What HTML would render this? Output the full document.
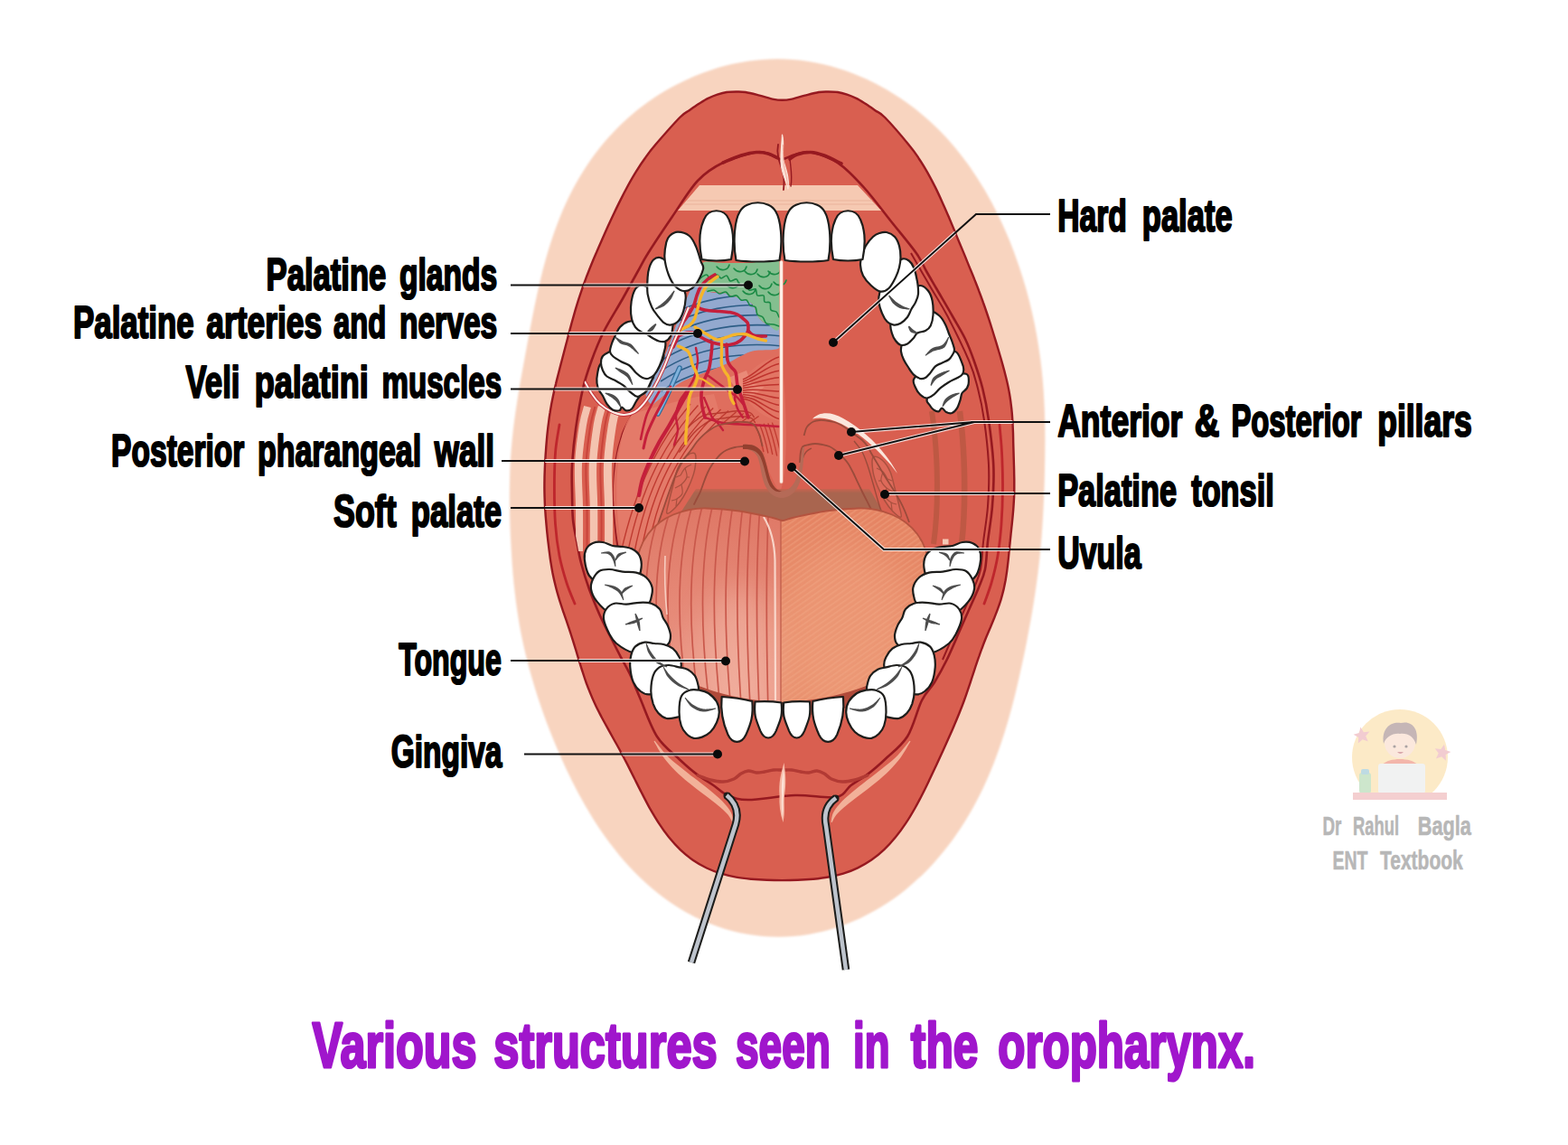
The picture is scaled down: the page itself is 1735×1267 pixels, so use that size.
<!DOCTYPE html>
<html><head><meta charset="utf-8"><title>Various structures seen in the oropharynx</title>
<style>html,body{margin:0;padding:0;background:#fff}svg{display:block}</style></head>
<body>
<svg width="1735" height="1267" viewBox="0 0 1735 1267" font-family="'Liberation Sans',sans-serif" font-weight="bold">
<defs>
<filter id="soft" x="-5%" y="-5%" width="110%" height="110%"><feGaussianBlur stdDeviation="0.9"/></filter>
<filter id="soft2" x="-5%" y="-200%" width="110%" height="500%"><feGaussianBlur stdDeviation="3"/></filter>
<filter id="soft3" x="-50%" y="-50%" width="200%" height="200%"><feGaussianBlur stdDeviation="18"/></filter>
<pattern id="hatch" width="5" height="5" patternUnits="userSpaceOnUse" patternTransform="rotate(-35)"><rect width="5" height="1.6" fill="#f4ad8c" opacity="0.35"/></pattern>
<linearGradient id="gbrown" x1="0" y1="0" x2="0" y2="1"><stop offset="0" stop-color="#c8634f"/><stop offset="0.12" stop-color="#a9654f"/><stop offset="1" stop-color="#a9654f"/></linearGradient>
<linearGradient id="gtl" x1="0" y1="0" x2="0" y2="1"><stop offset="0" stop-color="#df7866"/><stop offset="0.5" stop-color="#e68a78"/><stop offset="1" stop-color="#eea190"/></linearGradient>
<linearGradient id="gtr" x1="0" y1="0" x2="0" y2="1"><stop offset="0" stop-color="#e58463"/><stop offset="1" stop-color="#ea9370"/></linearGradient>
</defs>
<path d="M563.8,550.0C563.8,543.1 563.9,536.2 564.1,529.2C564.2,522.3 564.5,515.4 564.9,508.4C565.4,501.4 565.9,494.4 566.6,487.4C567.3,480.4 568.1,473.4 569.0,466.3C569.9,459.2 571.0,452.1 572.1,444.9C573.2,437.6 574.5,430.4 575.7,423.0C577.0,415.6 578.4,408.1 579.8,400.5C581.2,392.8 582.6,385.0 584.1,377.0C585.6,368.9 587.2,360.7 588.8,352.3C590.5,343.8 592.2,335.1 594.2,326.1C596.2,317.2 598.3,308.0 600.7,298.6C603.2,289.3 605.8,279.7 608.9,270.0C612.0,260.4 615.4,250.5 619.4,240.7C623.4,231.0 627.7,221.1 632.7,211.6C637.7,202.0 643.2,192.4 649.3,183.3C655.3,174.1 662.0,165.1 669.2,156.7C676.4,148.3 684.2,140.2 692.4,132.7C700.6,125.2 709.4,118.1 718.6,111.7C727.7,105.3 737.4,99.4 747.4,94.2C757.3,89.0 767.7,84.4 778.2,80.5C788.8,76.6 799.7,73.3 810.6,70.8C821.6,68.4 832.9,66.7 844.1,65.9C855.3,65.1 866.7,65.1 877.9,66.0C889.1,66.9 900.4,68.7 911.3,71.2C922.3,73.8 933.2,77.2 943.7,81.2C954.2,85.2 964.5,90.0 974.4,95.4C984.2,100.7 993.8,106.7 1002.9,113.2C1012.0,119.7 1020.7,126.8 1029.0,134.3C1037.2,141.8 1044.9,149.8 1052.2,158.0C1059.4,166.3 1066.2,175.0 1072.5,183.7C1078.7,192.5 1084.5,201.6 1089.9,210.7C1095.2,219.8 1100.1,229.0 1104.6,238.2C1109.1,247.4 1113.1,256.7 1116.9,265.8C1120.6,275.0 1124.0,284.1 1127.0,293.1C1130.1,302.1 1132.9,311.0 1135.4,319.8C1137.9,328.6 1140.0,337.3 1142.0,345.8C1144.0,354.4 1145.7,362.8 1147.2,371.2C1148.7,379.5 1149.9,387.7 1151.0,395.8C1152.1,403.9 1153.0,411.8 1153.7,419.7C1154.4,427.5 1154.9,435.3 1155.3,442.9C1155.7,450.5 1156.0,458.0 1156.2,465.4C1156.3,472.8 1156.4,480.0 1156.4,487.2C1156.4,494.4 1156.3,501.5 1156.2,508.5C1156.1,515.5 1156.0,522.5 1155.8,529.4C1155.6,536.3 1155.4,543.1 1155.1,550.0C1154.8,556.9 1154.5,563.7 1154.1,570.5C1153.7,577.3 1153.3,584.2 1152.8,591.0C1152.3,597.9 1151.7,604.7 1151.0,611.6C1150.3,618.6 1149.6,625.5 1148.7,632.5C1147.8,639.5 1146.9,646.5 1145.8,653.7C1144.8,660.8 1143.6,668.0 1142.4,675.3C1141.2,682.6 1139.9,690.0 1138.4,697.5C1137.0,705.1 1135.6,712.7 1134.0,720.6C1132.4,728.4 1130.7,736.4 1128.8,744.6C1127.0,752.8 1125.1,761.2 1122.9,769.8C1120.8,778.4 1118.5,787.2 1115.9,796.1C1113.3,805.1 1110.5,814.3 1107.3,823.5C1104.1,832.8 1100.7,842.3 1096.7,851.7C1092.8,861.2 1088.6,870.8 1083.8,880.3C1079.0,889.7 1073.8,899.3 1068.0,908.5C1062.2,917.8 1056.0,927.0 1049.2,935.8C1042.4,944.6 1035.0,953.3 1027.2,961.4C1019.4,969.4 1011.0,977.2 1002.1,984.4C993.3,991.5 983.9,998.2 974.2,1004.0C964.5,1009.9 954.3,1015.2 943.8,1019.6C933.4,1024.0 922.5,1027.7 911.5,1030.5C900.5,1033.2 889.2,1035.1 878.0,1036.1C866.7,1037.0 855.3,1037.0 844.0,1036.0C832.8,1035.1 821.5,1033.1 810.5,1030.3C799.6,1027.5 788.7,1023.6 778.3,1019.1C767.9,1014.5 757.7,1008.9 748.1,1002.8C738.5,996.7 729.2,989.7 720.5,982.3C711.8,975.0 703.6,966.9 695.9,958.6C688.2,950.3 681.1,941.4 674.4,932.6C667.7,923.7 661.6,914.5 655.8,905.3C650.1,896.2 644.9,886.9 639.9,877.8C635.0,868.6 630.5,859.4 626.3,850.4C622.0,841.4 618.2,832.5 614.5,823.8C610.9,815.0 607.5,806.4 604.3,797.9C601.2,789.4 598.2,781.0 595.5,772.8C592.8,764.5 590.3,756.4 588.0,748.3C585.7,740.3 583.6,732.4 581.7,724.5C579.8,716.7 578.1,708.9 576.6,701.2C575.1,693.5 573.8,685.9 572.7,678.4C571.5,670.8 570.5,663.4 569.7,656.0C568.8,648.7 568.1,641.4 567.5,634.2C566.9,626.9 566.4,619.8 566.0,612.7C565.5,605.6 565.2,598.6 564.8,591.6C564.5,584.6 564.3,577.7 564.1,570.8C564.0,563.8 563.8,556.9 563.8,550.0Z" fill="#f8d4bf" filter="url(#soft)"/>
<path d="M865.5,110.8C868.7,110.8 870.8,110.7 875.0,109.8C879.2,108.9 885.4,106.9 890.6,105.6C895.8,104.3 901.7,102.7 906.0,102.0C910.3,101.3 913.0,101.5 916.5,101.5C920.0,101.5 923.5,101.5 927.0,102.0C930.5,102.5 933.9,103.5 937.3,104.6C940.7,105.7 944.1,107.1 947.6,108.8C951.1,110.5 954.5,112.8 958.0,115.0C961.5,117.2 964.9,119.7 968.4,122.2C971.9,124.7 973.0,123.7 979.2,130.0C985.4,136.3 999.4,152.6 1005.6,160.2C1011.9,167.7 1013.2,170.0 1016.6,175.2C1020.1,180.3 1023.3,185.7 1026.4,191.1C1029.4,196.4 1032.3,202.0 1035.0,207.4C1037.7,212.8 1040.2,218.3 1042.6,223.7C1045.1,229.1 1047.3,234.4 1049.6,239.6C1051.8,244.8 1053.9,249.9 1056.0,254.9C1058.0,259.9 1060.0,264.8 1062.0,269.5C1064.0,274.3 1065.9,278.9 1067.8,283.4C1069.6,288.0 1071.5,292.4 1073.2,296.8C1075.0,301.1 1076.8,305.4 1078.4,309.6C1080.1,313.9 1081.8,318.0 1083.3,322.2C1084.9,326.3 1086.4,330.4 1087.8,334.5C1089.3,338.5 1090.7,342.6 1092.0,346.5C1093.4,350.5 1094.6,354.5 1095.9,358.4C1097.1,362.3 1098.3,366.2 1099.5,370.0C1100.7,373.8 1101.8,377.6 1103.0,381.3C1104.1,385.1 1105.2,388.8 1106.3,392.5C1107.3,396.1 1108.4,399.8 1109.4,403.4C1110.4,407.0 1111.4,410.6 1112.3,414.2C1113.2,417.9 1114.1,421.4 1114.9,425.0C1115.6,428.6 1116.4,432.2 1117.0,435.8C1117.6,439.4 1118.2,443.0 1118.6,446.6C1119.1,450.2 1119.5,453.8 1119.8,457.4C1120.1,461.0 1120.3,464.5 1120.5,468.1C1120.7,471.6 1120.8,475.2 1121.0,478.7C1121.1,482.2 1121.2,485.7 1121.2,489.1C1121.3,492.6 1121.4,496.0 1121.5,499.5C1121.6,502.9 1121.7,506.3 1121.8,509.7C1121.9,513.1 1122.0,516.4 1122.1,519.8C1122.1,523.2 1122.2,526.5 1122.3,529.9C1122.3,533.3 1122.3,536.6 1122.3,540.0C1122.3,543.4 1122.2,546.7 1122.1,550.1C1121.9,553.4 1121.7,556.8 1121.5,560.1C1121.3,563.5 1121.0,566.9 1120.7,570.2C1120.4,573.6 1120.0,576.9 1119.7,580.3C1119.3,583.6 1119.0,587.0 1118.6,590.3C1118.3,593.7 1117.9,597.1 1117.6,600.5C1117.2,603.9 1116.9,607.3 1116.5,610.8C1116.2,614.3 1115.9,617.7 1115.5,621.2C1115.1,624.7 1114.7,628.2 1114.2,631.8C1113.7,635.3 1113.2,638.8 1112.6,642.3C1111.9,645.9 1111.2,649.4 1110.4,652.9C1109.5,656.4 1108.6,659.9 1107.6,663.3C1106.5,666.8 1105.3,670.2 1104.1,673.6C1102.9,677.0 1101.5,680.4 1100.2,683.8C1098.8,687.2 1097.4,690.6 1096.0,694.0C1094.5,697.4 1093.1,700.8 1091.6,704.3C1090.2,707.8 1088.8,711.3 1087.4,715.0C1086.1,718.6 1084.7,722.3 1083.4,726.1C1082.0,729.9 1080.7,733.8 1079.4,737.7C1078.1,741.7 1076.8,745.8 1075.4,749.9C1074.1,754.1 1072.7,758.3 1071.2,762.6C1069.8,766.8 1068.3,771.2 1066.7,775.5C1065.1,779.9 1063.4,784.3 1061.6,788.8C1059.8,793.2 1058.0,797.7 1056.0,802.2C1054.1,806.8 1052.1,811.4 1050.0,816.1C1047.9,820.8 1045.7,825.5 1043.5,830.4C1041.3,835.3 1039.0,840.3 1036.6,845.5C1034.2,850.6 1031.8,855.9 1029.2,861.3C1026.6,866.7 1024.0,872.2 1021.2,877.7C1018.4,883.3 1015.5,888.9 1012.3,894.5C1009.2,900.0 1005.9,905.6 1002.3,910.9C998.8,916.2 995.0,921.5 991.0,926.3C987.0,931.2 982.8,935.9 978.3,940.1C973.9,944.3 969.2,948.1 964.3,951.5C959.4,954.9 954.3,957.8 949.1,960.3C943.9,962.9 938.5,964.9 933.1,966.6C927.6,968.3 922.0,969.5 916.5,970.5C910.9,971.6 905.2,972.2 899.6,972.8C893.9,973.3 888.2,973.6 882.5,973.8C876.9,974.0 871.2,974.1 865.5,974.1C859.8,974.1 854.1,974.0 848.5,973.8C842.8,973.6 837.1,973.3 831.4,972.8C825.8,972.2 820.1,971.6 814.5,970.6C809.0,969.6 803.4,968.4 797.9,966.7C792.5,965.0 787.1,963.0 781.9,960.5C776.7,958.0 771.5,955.0 766.7,951.7C761.8,948.3 757.1,944.4 752.6,940.1C748.2,935.9 744.0,931.2 740.0,926.3C736.0,921.3 732.3,916.0 728.8,910.6C725.2,905.3 722.0,899.6 718.8,894.1C715.7,888.5 712.8,882.8 710.0,877.3C707.2,871.9 704.5,866.4 701.9,861.2C699.2,855.9 696.7,850.8 694.2,845.9C691.7,841.0 689.2,836.3 686.7,831.7C684.3,827.1 681.8,822.8 679.4,818.5C677.0,814.1 674.7,810.0 672.4,805.8C670.1,801.7 667.8,797.6 665.6,793.5C663.5,789.4 661.4,785.4 659.4,781.3C657.5,777.2 655.6,773.1 653.9,768.9C652.2,764.8 650.6,760.6 649.0,756.5C647.5,752.3 646.1,748.1 644.8,744.0C643.4,739.9 642.2,735.8 641.0,731.8C639.7,727.8 638.5,723.8 637.4,719.9C636.2,715.9 635.0,712.1 633.8,708.3C632.6,704.6 631.4,700.9 630.2,697.2C629.0,693.6 627.8,690.0 626.6,686.4C625.3,682.9 624.1,679.3 622.9,675.8C621.8,672.3 620.6,668.8 619.5,665.3C618.4,661.8 617.4,658.3 616.4,654.8C615.4,651.3 614.5,647.8 613.7,644.3C612.9,640.8 612.1,637.3 611.4,633.7C610.8,630.2 610.1,626.7 609.6,623.2C609.0,619.6 608.5,616.1 608.1,612.6C607.6,609.1 607.2,605.6 606.8,602.1C606.3,598.6 606.0,595.2 605.6,591.7C605.2,588.2 604.9,584.8 604.6,581.3C604.3,577.9 604.0,574.4 603.7,571.0C603.5,567.5 603.2,564.1 603.0,560.7C602.8,557.2 602.7,553.8 602.6,550.3C602.5,546.9 602.4,543.4 602.4,540.0C602.4,536.6 602.4,533.1 602.5,529.7C602.5,526.2 602.7,522.8 602.8,519.3C602.9,515.9 603.1,512.4 603.3,509.0C603.5,505.5 603.7,502.1 604.0,498.6C604.2,495.1 604.5,491.6 604.8,488.1C605.1,484.7 605.4,481.2 605.8,477.7C606.2,474.1 606.6,470.6 607.1,467.1C607.5,463.6 608.0,460.1 608.6,456.5C609.1,453.0 609.8,449.4 610.4,445.9C611.1,442.4 611.8,438.8 612.6,435.2C613.4,431.7 614.2,428.1 615.1,424.6C615.9,421.0 616.9,417.4 617.8,413.8C618.7,410.2 619.7,406.5 620.6,402.9C621.6,399.2 622.5,395.5 623.5,391.7C624.5,388.0 625.5,384.2 626.5,380.3C627.5,376.5 628.5,372.5 629.6,368.6C630.6,364.6 631.7,360.6 632.8,356.5C633.9,352.5 635.1,348.4 636.3,344.2C637.5,340.1 638.8,335.9 640.1,331.7C641.5,327.4 642.9,323.2 644.4,318.9C645.9,314.6 647.5,310.3 649.1,305.9C650.8,301.6 652.5,297.2 654.3,292.8C656.1,288.3 658.0,283.8 660.0,279.3C661.9,274.7 663.9,270.1 666.0,265.4C668.1,260.7 670.2,255.9 672.4,251.0C674.6,246.2 676.9,241.2 679.3,236.2C681.7,231.2 684.2,226.0 686.8,220.9C689.4,215.7 692.1,210.5 694.9,205.3C697.8,200.1 700.8,194.8 704.0,189.7C707.2,184.5 710.5,179.4 714.1,174.5C717.6,169.5 719.0,167.4 725.3,160.0C731.7,152.6 746.0,136.3 752.2,130.0C758.4,123.7 759.1,124.7 762.6,122.2C766.1,119.7 769.5,117.2 773.0,115.0C776.5,112.8 779.9,110.5 783.4,108.8C786.9,107.1 790.3,105.7 793.7,104.6C797.1,103.5 800.5,102.5 804.0,102.0C807.5,101.5 811.0,101.5 814.5,101.5C818.0,101.5 820.6,101.3 824.9,102.0C829.2,102.7 835.2,104.3 840.4,105.6C845.6,106.9 851.8,108.9 856.0,109.8C860.2,110.7 862.3,110.8 865.5,110.8Z" fill="#d95f50" stroke="#961920" stroke-width="2.4"/>
<path d="M867.0,176.0C870.3,175.3 875.0,172.2 880.0,171.0C885.0,169.8 889.1,166.9 897.0,168.5C904.9,170.1 917.5,173.8 927.3,180.3C937.1,186.8 946.4,196.9 956.0,207.5C965.6,218.1 975.4,231.6 985.0,243.7C994.6,255.8 1007.1,270.6 1013.8,280.0C1020.5,289.4 1021.2,293.3 1025.0,300.0C1028.8,306.7 1031.8,311.7 1036.6,320.0C1041.4,328.3 1048.8,340.8 1054.0,350.0C1059.2,359.2 1064.0,366.7 1068.0,375.0C1072.0,383.3 1074.8,390.8 1078.0,400.0C1081.2,409.2 1084.6,419.2 1087.3,430.0C1090.0,440.8 1092.0,450.8 1094.0,465.0C1096.0,479.2 1098.6,499.2 1099.3,515.0C1100.0,530.8 1099.1,545.8 1098.0,560.0C1096.9,574.2 1094.2,588.3 1092.9,600.0C1091.6,611.7 1091.7,621.7 1090.0,630.0C1088.3,638.3 1086.0,642.5 1083.0,650.0C1080.0,657.5 1075.7,666.7 1072.0,675.0C1068.3,683.3 1065.0,690.8 1061.0,700.0C1057.0,709.2 1052.2,720.8 1047.7,730.0C1043.2,739.2 1038.6,747.5 1034.0,755.0C1029.4,762.5 1025.0,765.0 1020.0,775.0C1015.0,785.0 1010.8,804.2 1004.0,815.0C997.2,825.8 986.8,833.1 979.5,840.0C972.2,846.9 966.8,851.6 960.5,856.4C954.2,861.2 947.5,864.7 941.6,869.0C935.7,873.3 935.3,880.2 925.0,882.0C914.7,883.8 896.2,879.5 880.0,880.0C863.8,880.5 840.5,885.0 828.0,885.0C815.5,885.0 811.4,882.7 805.0,880.0C798.6,877.3 795.1,872.9 789.4,869.0C783.6,865.1 776.8,861.2 770.5,856.4C764.2,851.6 758.8,846.9 751.5,840.0C744.2,833.1 734.2,826.3 727.0,815.0C719.8,803.7 713.0,783.5 708.0,772.0C703.0,760.5 700.5,753.5 697.0,746.0C693.5,738.5 690.5,733.8 686.8,726.8C683.1,719.8 678.9,711.4 675.0,703.7C671.1,696.0 667.5,689.3 663.7,680.7C659.9,672.1 655.5,661.6 652.0,652.0C648.5,642.4 645.3,631.7 643.0,623.0C640.7,614.3 639.9,608.0 638.4,600.0C636.9,592.0 634.9,584.2 634.0,575.0C633.1,565.8 633.2,555.0 633.0,545.0C632.8,535.0 632.3,526.7 633.0,515.0C633.7,503.3 635.0,489.2 637.0,475.0C639.0,460.8 642.1,442.5 645.0,430.0C647.9,417.5 650.4,410.5 654.2,400.0C658.0,389.5 662.1,378.7 668.0,367.0C673.9,355.3 683.0,341.2 689.3,330.0C695.6,318.8 701.2,308.3 705.9,300.0C710.5,291.7 710.9,290.0 717.2,280.0C723.5,270.0 734.6,253.3 743.7,240.0C752.8,226.7 762.6,210.0 772.0,200.0C781.4,190.0 789.2,185.2 800.0,180.0C810.8,174.8 828.3,170.0 837.0,168.5C845.7,167.0 848.2,169.9 852.0,171.0C855.8,172.1 857.5,174.2 860.0,175.0C862.5,175.8 863.7,176.7 867.0,176.0Z" fill="#d95f50" stroke="#961920" stroke-width="2.6"/>
<path d="M774,205 L949,205 L975,233 L750,233 Z" fill="#f6c9b2"/>
<path d="M760,222 L965,222 M757,226 L968,226" stroke="#eab39b" stroke-width="1" fill="none"/>
<clipPath id="cav"><path d="M867.0,176.0C870.3,175.3 875.0,172.2 880.0,171.0C885.0,169.8 889.1,166.9 897.0,168.5C904.9,170.1 917.5,173.8 927.3,180.3C937.1,186.8 946.4,196.9 956.0,207.5C965.6,218.1 975.4,231.6 985.0,243.7C994.6,255.8 1007.1,270.6 1013.8,280.0C1020.5,289.4 1021.2,293.3 1025.0,300.0C1028.8,306.7 1031.8,311.7 1036.6,320.0C1041.4,328.3 1048.8,340.8 1054.0,350.0C1059.2,359.2 1064.0,366.7 1068.0,375.0C1072.0,383.3 1074.8,390.8 1078.0,400.0C1081.2,409.2 1084.6,419.2 1087.3,430.0C1090.0,440.8 1092.0,450.8 1094.0,465.0C1096.0,479.2 1098.6,499.2 1099.3,515.0C1100.0,530.8 1099.1,545.8 1098.0,560.0C1096.9,574.2 1094.2,588.3 1092.9,600.0C1091.6,611.7 1091.7,621.7 1090.0,630.0C1088.3,638.3 1086.0,642.5 1083.0,650.0C1080.0,657.5 1075.7,666.7 1072.0,675.0C1068.3,683.3 1065.0,690.8 1061.0,700.0C1057.0,709.2 1052.2,720.8 1047.7,730.0C1043.2,739.2 1038.6,747.5 1034.0,755.0C1029.4,762.5 1025.0,765.0 1020.0,775.0C1015.0,785.0 1010.8,804.2 1004.0,815.0C997.2,825.8 986.8,833.1 979.5,840.0C972.2,846.9 966.8,851.6 960.5,856.4C954.2,861.2 947.5,864.7 941.6,869.0C935.7,873.3 935.3,880.2 925.0,882.0C914.7,883.8 896.2,879.5 880.0,880.0C863.8,880.5 840.5,885.0 828.0,885.0C815.5,885.0 811.4,882.7 805.0,880.0C798.6,877.3 795.1,872.9 789.4,869.0C783.6,865.1 776.8,861.2 770.5,856.4C764.2,851.6 758.8,846.9 751.5,840.0C744.2,833.1 734.2,826.3 727.0,815.0C719.8,803.7 713.0,783.5 708.0,772.0C703.0,760.5 700.5,753.5 697.0,746.0C693.5,738.5 690.5,733.8 686.8,726.8C683.1,719.8 678.9,711.4 675.0,703.7C671.1,696.0 667.5,689.3 663.7,680.7C659.9,672.1 655.5,661.6 652.0,652.0C648.5,642.4 645.3,631.7 643.0,623.0C640.7,614.3 639.9,608.0 638.4,600.0C636.9,592.0 634.9,584.2 634.0,575.0C633.1,565.8 633.2,555.0 633.0,545.0C632.8,535.0 632.3,526.7 633.0,515.0C633.7,503.3 635.0,489.2 637.0,475.0C639.0,460.8 642.1,442.5 645.0,430.0C647.9,417.5 650.4,410.5 654.2,400.0C658.0,389.5 662.1,378.7 668.0,367.0C673.9,355.3 683.0,341.2 689.3,330.0C695.6,318.8 701.2,308.3 705.9,300.0C710.5,291.7 710.9,290.0 717.2,280.0C723.5,270.0 734.6,253.3 743.7,240.0C752.8,226.7 762.6,210.0 772.0,200.0C781.4,190.0 789.2,185.2 800.0,180.0C810.8,174.8 828.3,170.0 837.0,168.5C845.7,167.0 848.2,169.9 852.0,171.0C855.8,172.1 857.5,174.2 860.0,175.0C862.5,175.8 863.7,176.7 867.0,176.0Z"/></clipPath>
<g clip-path="url(#cav)">
<path d="M1031,455 C1038,500 1039,560 1033,602" stroke="#b4563f" stroke-width="6" opacity="0.75" fill="none"/>
<path d="M1062,455 C1068,500 1069,560 1064,602" stroke="#b4563f" stroke-width="6.5" opacity="0.7" fill="none"/>
<rect x="1043" y="596.5" width="6.5" height="6" fill="#f7c9b5"/>
<path d="M1008.0,280.0C1011.8,286.7 1024.2,308.3 1031.0,320.0C1037.8,331.7 1041.6,336.7 1048.5,350.0C1055.4,363.3 1066.9,386.7 1072.5,400.0C1078.1,413.3 1079.2,419.2 1082.0,430.0C1084.8,440.8 1087.0,450.8 1089.0,465.0C1091.0,479.2 1093.3,499.2 1094.0,515.0C1094.7,530.8 1094.0,545.8 1093.0,560.0C1092.0,574.2 1089.3,588.3 1088.0,600.0C1086.7,611.7 1086.7,621.7 1085.0,630.0C1083.3,638.3 1081.0,642.5 1078.0,650.0C1075.0,657.5 1070.7,666.7 1067.0,675.0C1063.3,683.3 1060.0,690.8 1056.0,700.0C1052.0,709.2 1045.2,725.0 1043.0,730.0" stroke="#961920" stroke-width="2" fill="none"/>
<path d="M650.0,450.0C649.2,453.3 646.7,459.3 645.0,470.0C643.3,480.7 640.7,498.8 640.0,514.0C639.3,529.2 640.8,545.0 641.0,561.0C641.2,577.0 641.0,601.8 641.0,610.0" stroke="#f4c3b0" stroke-width="8" fill="none"/>
<path d="M666.0,450.0C665.2,453.3 662.7,459.3 661.0,470.0C659.3,480.7 656.7,498.8 656.0,514.0C655.3,529.2 656.8,545.0 657.0,561.0C657.2,577.0 657.0,601.8 657.0,610.0" stroke="#f4c3b0" stroke-width="8.5" fill="none"/>
<path d="M682.5,450.0C681.7,453.3 679.2,459.3 677.5,470.0C675.8,480.7 673.2,498.8 672.5,514.0C671.8,529.2 673.3,545.0 673.5,561.0C673.7,577.0 673.5,601.8 673.5,610.0" stroke="#f4c3b0" stroke-width="9" fill="none"/>
<path d="M658.5,450.0C657.7,453.3 655.2,459.3 653.5,470.0C651.8,480.7 649.2,498.8 648.5,514.0C647.8,529.2 649.3,545.0 649.5,561.0C649.7,577.0 649.5,601.8 649.5,610.0" stroke="#c9433a" stroke-width="2" fill="none"/>
<path d="M674.5,450.0C673.7,453.3 671.2,459.3 669.5,470.0C667.8,480.7 665.2,498.8 664.5,514.0C663.8,529.2 665.3,545.0 665.5,561.0C665.7,577.0 665.5,601.8 665.5,610.0" stroke="#c9433a" stroke-width="2" fill="none"/>
<path d="M700.0,458.0C698.2,461.7 692.2,470.7 689.0,480.0C685.8,489.3 682.6,500.5 681.0,514.0C679.4,527.5 679.2,546.7 679.5,561.0C679.8,575.3 681.2,586.8 683.0,600.0C684.8,613.2 688.8,633.3 690.0,640.0" stroke="#961920" stroke-width="2.5" fill="none"/>
<path d="M863.0,384.0C857.7,358.0 841.0,385.8 831.0,389.0C821.0,392.2 812.3,398.8 803.0,403.0C793.7,407.2 783.5,410.5 775.0,414.0C766.5,417.5 760.3,418.8 752.0,424.0C743.7,429.2 733.7,439.3 725.0,445.0C716.3,450.7 706.0,452.2 700.0,458.0C694.0,463.8 692.2,470.7 689.0,480.0C685.8,489.3 682.6,500.5 681.0,514.0C679.4,527.5 678.0,543.3 679.5,561.0C681.0,578.7 683.2,610.2 690.0,620.0C696.8,629.8 708.3,627.5 720.0,620.0C731.7,612.5 748.3,585.0 760.0,575.0C771.7,565.0 772.8,565.0 790.0,560.0C807.2,555.0 850.8,574.3 863.0,545.0C875.2,515.7 868.3,410.0 863.0,384.0Z" fill="#df6e5e"/>
<path d="M700,458 C720,452 760,440 790,436 L800,470 C775,482 755,510 742,540 L725,600 L690,615 C680,570 680,520 689,480Z" fill="#e47a69"/>
<path d="M764.0,447.0 C728.0,490.0 703.0,540.0 687.0,612.0" stroke="#bf3a30" stroke-width="1.4" fill="none"/>
<path d="M772.4,448.5 C735.2,490.0 709.2,540.0 694.4,612.0" stroke="#bf3a30" stroke-width="1.4" fill="none"/>
<path d="M780.8,450.0 C742.4,490.0 715.4,540.0 701.8,612.0" stroke="#bf3a30" stroke-width="1.4" fill="none"/>
<path d="M789.2,451.5 C749.6,490.0 721.6,540.0 709.2,612.0" stroke="#bf3a30" stroke-width="1.4" fill="none"/>
<path d="M797.6,453.0 C756.8,490.0 727.8,540.0 716.6,612.0" stroke="#bf3a30" stroke-width="1.4" fill="none"/>
<path d="M806.0,454.5 C764.0,490.0 734.0,540.0 724.0,612.0" stroke="#bf3a30" stroke-width="1.4" fill="none"/>
<path d="M814.4,456.0 C771.2,490.0 740.2,540.0 731.4,612.0" stroke="#bf3a30" stroke-width="1.4" fill="none"/>
<path d="M822.8,457.5 C778.4,490.0 746.4,540.0 738.8,612.0" stroke="#bf3a30" stroke-width="1.4" fill="none"/>
<path d="M831.2,459.0 C785.6,490.0 752.6,540.0 746.2,612.0" stroke="#bf3a30" stroke-width="1.4" fill="none"/>
<path d="M839.6,460.5 C792.8,490.0 758.8,540.0 753.6,612.0" stroke="#bf3a30" stroke-width="1.4" fill="none"/>
<path d="M818,428 C830,405 850,396 862,394 L862,466 C845,462 830,452 818,428Z" fill="#e27564"/>
<path d="M806,418 L826,410 L831,424 L846,428 L830,440 L818,436Z" fill="#ea8a78"/>
<path d="M862,395.0 C850,397.0 836,415.0 822,420.0" stroke="#bf342e" stroke-width="1.5" fill="none"/>
<path d="M862,402.6 C850,404.2 836,417.9 822,422.4" stroke="#bf342e" stroke-width="1.5" fill="none"/>
<path d="M862,410.2 C850,411.3 836,420.9 822,424.8" stroke="#bf342e" stroke-width="1.5" fill="none"/>
<path d="M862,417.8 C850,418.5 836,423.8 822,427.2" stroke="#bf342e" stroke-width="1.5" fill="none"/>
<path d="M862,425.4 C850,425.6 836,426.7 822,429.6" stroke="#bf342e" stroke-width="1.5" fill="none"/>
<path d="M862,433.0 C850,432.8 836,429.7 822,432.0" stroke="#bf342e" stroke-width="1.5" fill="none"/>
<path d="M862,440.6 C850,439.9 836,432.6 822,434.4" stroke="#bf342e" stroke-width="1.5" fill="none"/>
<path d="M862,448.2 C850,447.1 836,435.5 822,436.8" stroke="#bf342e" stroke-width="1.5" fill="none"/>
<path d="M862,455.8 C850,454.2 836,438.5 822,439.2" stroke="#bf342e" stroke-width="1.5" fill="none"/>
<path d="M862,463.4 C850,461.4 836,441.4 822,441.6" stroke="#bf342e" stroke-width="1.5" fill="none"/>
<path d="M751.4,500.6C752.5,499.2 755.8,494.9 758.0,492.0C760.2,489.1 762.2,485.7 764.4,483.0C766.6,480.3 769.1,477.8 771.4,475.6C773.7,473.4 775.8,471.8 778.4,470.0C781.0,468.2 783.0,466.2 787.1,465.0C791.2,463.8 798.4,463.2 802.8,462.5C807.2,461.8 810.1,461.2 813.4,461.0C816.7,460.8 819.7,460.7 822.8,461.0C825.9,461.3 829.6,461.8 831.8,463.0C834.0,464.2 835.1,467.2 835.8,468.0" stroke="#b8392f" stroke-width="1.4" fill="none"/>
<path d="M744.8,494.6C745.9,493.2 749.2,488.9 751.4,486.0C753.6,483.1 755.6,479.7 757.8,477.0C760.0,474.3 762.5,471.8 764.8,469.6C767.1,467.4 769.2,465.8 771.8,464.0C774.4,462.2 775.5,460.2 780.5,459.0C785.5,457.8 796.3,457.2 801.6,456.5C806.9,455.8 808.9,455.2 812.2,455.0C815.5,454.8 818.5,454.7 821.6,455.0C824.7,455.3 828.4,455.8 830.6,457.0C832.8,458.2 833.9,461.2 834.6,462.0" stroke="#b8392f" stroke-width="1.4" fill="none"/>
<path d="M728.0,585.0C729.2,580.8 732.7,567.5 735.0,560.0C737.3,552.5 739.5,546.7 742.0,540.0C744.5,533.3 747.3,525.6 750.0,520.0C752.7,514.4 755.6,510.3 758.0,506.6C760.4,502.9 762.4,500.9 764.6,498.0C766.8,495.1 768.8,491.7 771.0,489.0C773.2,486.3 775.7,483.8 778.0,481.6C780.3,479.4 782.4,477.8 785.0,476.0C787.6,474.2 790.5,472.2 793.7,471.0C796.9,469.8 800.5,469.2 804.0,468.5C807.5,467.8 811.3,467.2 814.6,467.0C817.9,466.8 820.9,466.7 824.0,467.0C827.1,467.3 830.8,467.8 833.0,469.0C835.2,470.2 835.7,471.9 837.0,474.0C838.3,476.1 839.8,479.4 840.6,481.6C841.4,483.8 841.5,484.9 842.0,487.0C842.5,489.1 843.4,492.8 843.7,494.0 L850,520 L862,545 L862,592 L726,592 Z" fill="#dc6454"/>
<path d="M836.0,470.0 C841.0,482.0 843.0,490.0 845.0,500.0" stroke="#bf3a30" stroke-width="1.3" fill="none"/>
<path d="M840.6,469.4 C845.6,482.0 847.6,490.0 849.9,501.5" stroke="#bf3a30" stroke-width="1.3" fill="none"/>
<path d="M845.2,468.8 C850.2,482.0 852.2,490.0 854.8,503.0" stroke="#bf3a30" stroke-width="1.3" fill="none"/>
<path d="M849.8,468.2 C854.8,482.0 856.8,490.0 859.7,504.5" stroke="#bf3a30" stroke-width="1.3" fill="none"/>
<path d="M854.4,467.6 C859.4,482.0 861.4,490.0 864.6,506.0" stroke="#bf3a30" stroke-width="1.3" fill="none"/>
<path d="M770.0,312.0C773.8,310.8 778.0,320.5 783.0,322.5C788.0,324.5 795.2,323.1 800.0,324.0C804.8,324.9 806.8,326.2 812.0,328.0C817.2,329.8 826.3,331.0 831.0,335.0C835.7,339.0 837.0,348.1 840.0,352.0C843.0,355.9 845.2,357.0 849.0,358.5C852.8,360.0 860.7,356.6 863.0,361.0C865.3,365.4 868.3,379.9 863.0,384.6C857.7,389.3 841.0,385.9 831.0,389.0C821.0,392.1 812.3,398.8 803.0,403.0C793.7,407.2 783.5,410.5 775.0,414.0C766.5,417.5 759.8,419.2 752.0,424.0C744.2,428.8 733.3,439.2 728.0,443.0C722.7,446.8 722.2,449.2 720.0,447.0C717.8,444.8 712.5,438.7 715.0,430.0C717.5,421.3 729.5,406.7 735.0,395.0C740.5,383.3 743.8,370.8 748.0,360.0C752.2,349.2 756.3,338.0 760.0,330.0C763.7,322.0 766.2,313.2 770.0,312.0Z" fill="#93a9cf"/>
<clipPath id="bluec"><path d="M770.0,312.0C773.8,310.8 778.0,320.5 783.0,322.5C788.0,324.5 795.2,323.1 800.0,324.0C804.8,324.9 806.8,326.2 812.0,328.0C817.2,329.8 826.3,331.0 831.0,335.0C835.7,339.0 837.0,348.1 840.0,352.0C843.0,355.9 845.2,357.0 849.0,358.5C852.8,360.0 860.7,356.6 863.0,361.0C865.3,365.4 868.3,379.9 863.0,384.6C857.7,389.3 841.0,385.9 831.0,389.0C821.0,392.1 812.3,398.8 803.0,403.0C793.7,407.2 783.5,410.5 775.0,414.0C766.5,417.5 759.8,419.2 752.0,424.0C744.2,428.8 733.3,439.2 728.0,443.0C722.7,446.8 722.2,449.2 720.0,447.0C717.8,444.8 712.5,438.7 715.0,430.0C717.5,421.3 729.5,406.7 735.0,395.0C740.5,383.3 743.8,370.8 748.0,360.0C752.2,349.2 756.3,338.0 760.0,330.0C763.7,322.0 766.2,313.2 770.0,312.0Z"/></clipPath>
<g clip-path="url(#bluec)" stroke="#2d5d86" stroke-width="1.6" fill="none">
<path d="M728.0,356.0 C770.0,330.0 815.0,323.0 866.0,328.0"/>
<path d="M728.5,367.0 C770.0,341.0 815.0,334.0 866.0,339.0"/>
<path d="M729.0,378.0 C770.0,352.0 815.0,345.0 866.0,350.0"/>
<path d="M729.5,389.0 C770.0,363.0 815.0,356.0 866.0,361.0"/>
<path d="M730.0,400.0 C770.0,374.0 815.0,367.0 866.0,372.0"/>
<path d="M730.5,411.0 C770.0,385.0 815.0,378.0 866.0,383.0"/>
<path d="M731.0,422.0 C770.0,396.0 815.0,389.0 866.0,394.0"/>
<path d="M731.5,433.0 C770.0,407.0 815.0,400.0 866.0,405.0"/>
<path d="M732.0,444.0 C770.0,418.0 815.0,411.0 866.0,416.0"/>
<path d="M732.5,455.0 C770.0,429.0 815.0,422.0 866.0,427.0"/>
<path d="M733.0,466.0 C770.0,440.0 815.0,433.0 866.0,438.0"/>
</g>
<path d="M752,407 C746,420 738,440 728,458" stroke="#2f6d9c" stroke-width="5.5" stroke-linecap="round" fill="none"/>
<path d="M752,407 C746,420 738,440 728,458" stroke="#7fb2dc" stroke-width="3" stroke-linecap="round" fill="none"/>
<path d="M779.0,290.0C783.3,288.5 791.5,290.8 800.0,291.0C808.5,291.2 819.5,291.0 830.0,291.0C840.5,291.0 857.5,279.3 863.0,291.0C868.5,302.7 865.3,349.8 863.0,361.0C860.7,372.2 852.8,360.0 849.0,358.5C845.2,357.0 842.2,354.6 840.0,352.0C837.8,349.4 837.5,345.8 836.0,343.0C834.5,340.2 833.7,337.0 831.0,335.0C828.3,333.0 823.2,332.2 820.0,331.0C816.8,329.8 815.3,329.2 812.0,328.0C808.7,326.8 803.7,324.8 800.0,324.0C796.3,323.2 792.8,323.2 790.0,323.0C787.2,322.8 785.5,323.7 783.0,322.5C780.5,321.3 777.2,317.8 775.0,316.0C772.8,314.2 770.2,314.7 770.0,312.0C769.8,309.3 772.5,303.7 774.0,300.0C775.5,296.3 774.7,291.5 779.0,290.0Z" fill="#84bf8f"/>
<g stroke="#1b8a45" stroke-width="1.6" fill="none" stroke-linecap="round">
<path d="M770.0,312.0C771.0,311.2 774.0,308.3 776.0,307.0C778.0,305.7 780.3,303.7 782.0,304.0C783.7,304.3 784.2,309.0 786.0,309.0C787.8,309.0 791.0,304.2 793.0,304.0C795.0,303.8 796.2,307.8 798.0,308.0C799.8,308.2 802.3,304.5 804.0,305.0C805.7,305.5 806.2,310.3 808.0,311.0C809.8,311.7 813.2,308.2 815.0,309.0C816.8,309.8 817.2,315.2 819.0,316.0C820.8,316.8 824.3,313.2 826.0,314.0C827.7,314.8 827.3,320.0 829.0,321.0C830.7,322.0 834.5,319.0 836.0,320.0C837.5,321.0 836.5,325.8 838.0,327.0C839.5,328.2 843.7,325.8 845.0,327.0C846.3,328.2 844.8,332.7 846.0,334.0C847.2,335.3 850.8,333.5 852.0,335.0C853.2,336.5 851.8,341.3 853.0,343.0C854.2,344.7 857.5,343.7 859.0,345.0C860.5,346.3 861.5,350.0 862.0,351.0"/>
<path d="M783.0,322.5C784.2,322.2 787.8,320.6 790.0,321.0C792.2,321.4 793.8,324.7 796.0,325.0C798.2,325.3 801.0,322.5 803.0,323.0C805.0,323.5 806.0,327.3 808.0,328.0C810.0,328.7 813.0,326.3 815.0,327.0C817.0,327.7 818.2,331.2 820.0,332.0C821.8,332.8 824.3,331.0 826.0,332.0C827.7,333.0 828.3,336.7 830.0,338.0C831.7,339.3 834.7,338.3 836.0,340.0C837.3,341.7 836.7,346.2 838.0,348.0C839.3,349.8 842.3,349.3 844.0,351.0C845.7,352.7 846.0,356.7 848.0,358.0C850.0,359.3 853.7,358.5 856.0,359.0C858.3,359.5 861.0,360.7 862.0,361.0"/>
<path d="M793.0,295.0 q4,5 10,3 q3,-1 4,-5"/>
<path d="M812.0,297.0 q4,5 10,3 q3,-1 4,-5"/>
<path d="M824.0,300.0 q4,5 10,3 q3,-1 4,-5"/>
<path d="M838.0,303.0 q4,5 10,3 q3,-1 4,-5"/>
<path d="M850.0,300.0 q4,5 10,3 q3,-1 4,-5"/>
<path d="M822.0,322.0 q4,5 10,3 q3,-1 4,-5"/>
<path d="M840.0,316.0 q4,5 10,3 q3,-1 4,-5"/>
<path d="M850.0,323.0 q4,5 10,3 q3,-1 4,-5"/>
<path d="M856.0,312.0 q4,5 10,3 q3,-1 4,-5"/>
<path d="M804.0,315.0 q4,5 10,3 q3,-1 4,-5"/>
</g>
<g stroke="#c51f3b" fill="none" stroke-linecap="round" stroke-linejoin="round" stroke-width="3.6">
<path d="M791.0,304.0C789.7,304.8 785.6,306.8 783.0,309.0C780.4,311.2 777.4,314.0 775.4,317.0C773.4,320.0 772.2,323.7 771.0,327.0C769.8,330.3 769.5,333.5 768.0,337.0C766.5,340.5 764.2,344.4 762.0,348.0C759.8,351.6 756.9,354.5 755.0,358.5C753.1,362.5 752.2,367.8 750.5,372.0C748.8,376.2 745.9,382.0 745.0,384.0"/>
<path d="M768.0,338.0C769.3,338.7 773.2,341.1 776.0,342.0C778.8,342.9 781.3,343.3 784.6,343.7C787.9,344.1 792.1,344.2 796.0,344.5C799.9,344.8 804.4,345.0 807.7,345.6C811.0,346.2 813.7,346.9 816.0,348.0C818.3,349.1 819.8,350.5 821.6,352.0C823.4,353.5 825.9,355.2 827.0,357.0C828.1,358.8 828.0,361.2 828.0,363.0C828.0,364.8 827.7,366.5 827.0,368.0C826.3,369.5 825.3,370.5 824.0,372.0C822.7,373.5 821.0,375.6 819.0,377.0C817.0,378.4 814.7,379.8 812.0,380.6C809.3,381.4 806.0,382.0 803.0,382.0C800.0,382.0 797.2,381.4 794.0,380.6C790.8,379.9 787.1,378.8 784.0,377.5C780.9,376.2 777.9,374.5 775.4,373.0C772.9,371.5 771.6,369.4 769.0,368.6C766.4,367.8 762.8,367.6 760.0,368.0C757.2,368.4 753.3,370.5 752.0,371.0"/>
<path d="M828.0,366.0C828.7,366.7 830.3,369.0 832.0,370.0C833.7,371.0 835.4,371.7 838.0,372.0C840.6,372.3 845.8,372.0 847.4,372.0"/>
<path d="M788.0,380.0C787.8,382.0 787.6,387.4 787.0,392.0C786.4,396.6 785.9,402.8 784.6,407.7C783.3,412.6 780.4,416.8 779.0,421.5C777.6,426.2 776.3,431.2 776.0,436.0C775.7,440.8 776.3,445.7 777.0,450.0C777.7,454.3 779.5,460.0 780.0,462.0"/>
<path d="M804.0,381.0C804.2,383.9 804.2,394.3 805.0,398.5C805.8,402.7 807.5,403.8 809.0,406.0C810.5,408.2 812.8,408.7 814.0,412.0C815.2,415.3 815.0,421.7 816.0,426.0C817.0,430.3 818.7,434.0 820.0,438.0C821.3,442.0 822.7,446.0 824.0,450.0C825.3,454.0 827.3,460.0 828.0,462.0"/>
</g>
<g stroke="#c51f3b" fill="none" stroke-linecap="round" stroke-linejoin="round" stroke-width="2.4">
<path d="M770.0,385.0C770.3,387.5 772.3,394.5 772.0,400.0C771.7,405.5 770.0,412.7 768.0,418.0C766.0,423.3 762.7,427.7 760.0,432.0C757.3,436.3 754.0,439.3 752.0,444.0C750.0,448.7 748.3,454.7 748.0,460.0C747.7,465.3 750.3,470.7 750.0,476.0C749.7,481.3 746.7,489.3 746.0,492.0"/>
<path d="M784.0,416.0C785.3,417.0 789.3,420.0 792.0,422.0C794.7,424.0 797.3,426.0 800.0,428.0C802.7,430.0 805.3,432.0 808.0,434.0C810.7,436.0 813.7,437.8 816.0,440.0C818.3,442.2 821.0,445.8 822.0,447.0"/>
<path d="M779.0,440.0C779.8,442.0 782.5,448.3 784.0,452.0C785.5,455.7 786.3,459.3 788.0,462.0C789.7,464.7 792.0,465.7 794.0,468.0C796.0,470.3 799.0,474.7 800.0,476.0"/>
<path d="M816.0,426.0C815.5,428.3 813.0,435.7 813.0,440.0C813.0,444.3 814.5,448.3 816.0,452.0C817.5,455.7 821.0,460.3 822.0,462.0"/>
<path d="M780.0,462.0C783.3,463.0 791.7,466.7 800.0,468.0C808.3,469.3 819.7,469.3 830.0,470.0C840.3,470.7 856.7,471.7 862.0,472.0"/>
</g>
<path d="M762.0,432.0C760.3,435.0 755.5,443.7 752.0,450.0C748.5,456.3 744.8,463.3 741.0,470.0C737.2,476.7 732.7,483.3 729.0,490.0C725.3,496.7 722.0,503.3 719.0,510.0C716.0,516.7 713.0,523.7 711.0,530.0C709.0,536.3 707.7,545.0 707.0,548.0" stroke="#c51f3b" fill="none" stroke-linecap="round" stroke-linejoin="round" stroke-width="4.2"/>
<path d="M742.0,428.0C740.5,430.8 736.0,439.3 733.0,445.0C730.0,450.7 726.8,456.2 724.0,462.0C721.2,467.8 718.0,474.3 716.0,480.0C714.0,485.7 712.7,493.3 712.0,496.0" stroke="#c51f3b" fill="none" stroke-linecap="round" stroke-linejoin="round" stroke-width="3"/>
<path d="M730.0,432.0C728.7,434.3 724.3,441.7 722.0,446.0C719.7,450.3 717.7,453.7 716.0,458.0C714.3,462.3 713.2,467.3 712.0,472.0C710.8,476.7 709.5,483.7 709.0,486.0" stroke="#c51f3b" fill="none" stroke-linecap="round" stroke-linejoin="round" stroke-width="2.6"/>
<g stroke="#f6b52b" fill="none" stroke-linecap="round" stroke-linejoin="round" stroke-width="3.4">
<path d="M794.0,306.0C792.7,307.0 788.3,309.8 786.0,312.0C783.7,314.2 781.7,316.5 780.0,319.0C778.3,321.5 777.1,324.3 776.0,327.0C774.9,329.7 774.3,332.4 773.5,335.4C772.7,338.4 771.9,341.9 771.0,345.0C770.1,348.1 769.3,351.5 768.0,354.0C766.7,356.5 764.8,358.5 763.0,360.0C761.2,361.5 759.2,361.8 757.0,363.0C754.8,364.2 751.2,366.3 750.0,367.0"/>
<path d="M769.0,362.0C769.8,362.5 772.2,363.9 774.0,365.0C775.8,366.1 777.8,367.3 780.0,368.6C782.2,369.9 784.7,371.8 787.0,373.0C789.3,374.2 791.3,375.9 794.0,376.0C796.7,376.1 800.0,374.4 803.0,373.5C806.0,372.6 808.9,371.1 812.0,370.5C815.1,369.9 819.2,369.7 821.5,369.6C823.8,369.5 824.4,369.6 826.0,370.0C827.6,370.4 828.8,371.2 831.0,372.0C833.2,372.8 836.3,374.2 839.0,375.0C841.7,375.8 846.0,376.7 847.4,377.0"/>
<path d="M798.5,377.0C798.5,379.2 798.5,385.7 798.5,390.0C798.5,394.3 797.9,399.5 798.5,403.0C799.1,406.5 800.8,408.7 802.0,411.0C803.2,413.3 805.1,414.5 806.0,417.0C806.9,419.5 807.2,422.9 807.5,426.0C807.8,429.1 807.5,432.9 807.7,435.4C808.0,437.9 808.3,439.1 809.0,441.0C809.7,442.9 811.5,445.6 812.0,446.5"/>
<path d="M750.5,383.0C751.4,383.4 754.2,384.5 756.0,385.5C757.8,386.5 760.1,387.2 761.5,389.0C762.9,390.8 763.8,393.7 764.5,396.0C765.2,398.3 765.2,400.7 766.0,403.0C766.8,405.3 768.5,407.7 769.5,410.0C770.5,412.3 771.8,414.3 771.7,417.0C771.6,419.7 770.3,422.9 769.0,426.0C767.7,429.1 765.2,432.2 764.0,435.4C762.8,438.6 762.4,441.9 762.0,445.0C761.6,448.1 761.8,451.0 761.5,454.0C761.2,457.0 760.8,460.0 760.5,463.0C760.2,466.0 760.0,469.0 759.7,472.0C759.5,475.0 759.1,477.8 759.0,481.0C758.9,484.2 758.8,489.3 758.8,491.0"/>
</g>
<path d="M772.0,418.0C773.0,418.3 776.0,419.0 778.0,420.0C780.0,421.0 782.0,422.7 784.0,424.0C786.0,425.3 789.0,427.3 790.0,428.0" stroke="#f6b52b" fill="none" stroke-linecap="round" stroke-linejoin="round" stroke-width="2.2"/>
<path d="M647.0,422.0C648.3,424.3 652.2,431.8 655.0,436.0C657.8,440.2 660.5,443.8 664.0,447.0C667.5,450.2 671.7,453.0 676.0,455.0C680.3,457.0 685.7,458.8 690.0,459.0C694.3,459.2 698.3,458.0 702.0,456.0C705.7,454.0 708.7,451.0 712.0,447.0C715.3,443.0 718.3,438.5 722.0,432.0C725.7,425.5 730.2,416.7 734.0,408.0C737.8,399.3 741.5,388.5 745.0,380.0C748.5,371.5 752.2,363.7 755.0,357.0C757.8,350.3 760.8,342.8 762.0,340.0" stroke="#c0303a" stroke-width="4" fill="none"/>
<path d="M647.0,422.0C648.3,424.3 652.2,431.8 655.0,436.0C657.8,440.2 660.5,443.8 664.0,447.0C667.5,450.2 671.7,453.0 676.0,455.0C680.3,457.0 685.7,458.8 690.0,459.0C694.3,459.2 698.3,458.0 702.0,456.0C705.7,454.0 708.7,451.0 712.0,447.0C715.3,443.0 718.3,438.5 722.0,432.0C725.7,425.5 730.2,416.7 734.0,408.0C737.8,399.3 741.5,388.5 745.0,380.0C748.5,371.5 752.2,363.7 755.0,357.0C757.8,350.3 760.8,342.8 762.0,340.0" stroke="#fdeee8" stroke-width="2" fill="none"/>
<path d="M864.5,290 L864.5,533" stroke="#ec9f8e" stroke-width="4.4" stroke-linecap="round"/>
<path d="M864.5,290 L864.5,533" stroke="#fdeee6" stroke-width="3" stroke-linecap="round"/>
<path d="M770,541 L962,541 L985,580 L745,580 Z" fill="url(#gbrown)"/>
<path d="M966.0,506.0C967.7,503.8 972.8,506.3 976.0,509.0C979.2,511.7 982.7,516.8 985.0,522.0C987.3,527.2 988.3,533.7 990.0,540.0C991.7,546.3 993.8,554.7 995.0,560.0C996.2,565.3 998.2,571.0 997.0,572.0C995.8,573.0 991.0,569.0 988.0,566.0C985.0,563.0 981.8,558.7 979.0,554.0C976.2,549.3 973.2,543.3 971.0,538.0C968.8,532.7 966.8,527.3 966.0,522.0C965.2,516.7 964.3,508.2 966.0,506.0Z" fill="#de6a5a" stroke="#a8503f" stroke-width="1.5"/>
<path d="M970.0,518.0C971.2,518.7 975.0,520.0 977.0,522.0C979.0,524.0 981.2,528.7 982.0,530.0" fill="none" stroke="#a8503f" stroke-width="1.2"/>
<path d="M977.0,522.0C976.7,523.7 974.3,529.0 975.0,532.0C975.7,535.0 978.8,538.0 981.0,540.0C983.2,542.0 986.8,543.3 988.0,544.0" fill="none" stroke="#a8503f" stroke-width="1.2"/>
<path d="M981.0,540.0C980.8,541.7 979.2,547.3 980.0,550.0C980.8,552.7 984.0,554.7 986.0,556.0C988.0,557.3 991.0,557.7 992.0,558.0" fill="none" stroke="#a8503f" stroke-width="1.2"/>
<path d="M972.0,532.0C972.5,532.0 974.5,532.0 975.0,532.0" fill="none" stroke="#a8503f" stroke-width="1.2"/>
<path d="M986.0,556.0C986.2,557.3 986.8,562.7 987.0,564.0" fill="none" stroke="#a8503f" stroke-width="1.2"/>
<path d="M982.0,530.0C982.8,530.3 986.2,531.7 987.0,532.0" fill="none" stroke="#a8503f" stroke-width="1.2"/>
<path d="M769.0,502.0C767.3,499.8 762.2,502.3 759.0,505.0C755.8,507.7 752.3,512.8 750.0,518.0C747.7,523.2 746.7,529.7 745.0,536.0C743.3,542.3 741.2,550.7 740.0,556.0C738.8,561.3 736.8,567.0 738.0,568.0C739.2,569.0 744.0,565.0 747.0,562.0C750.0,559.0 753.2,554.7 756.0,550.0C758.8,545.3 761.8,539.3 764.0,534.0C766.2,528.7 768.2,523.3 769.0,518.0C769.8,512.7 770.7,504.2 769.0,502.0Z" fill="#de6a5a" stroke="#a8503f" stroke-width="1.5"/>
<path d="M765.0,514.0C763.8,514.7 760.0,516.0 758.0,518.0C756.0,520.0 753.8,524.7 753.0,526.0" fill="none" stroke="#a8503f" stroke-width="1.2"/>
<path d="M758.0,518.0C758.3,519.7 760.7,525.0 760.0,528.0C759.3,531.0 756.2,534.0 754.0,536.0C751.8,538.0 748.2,539.3 747.0,540.0" fill="none" stroke="#a8503f" stroke-width="1.2"/>
<path d="M754.0,536.0C754.2,537.7 755.8,543.3 755.0,546.0C754.2,548.7 751.0,550.7 749.0,552.0C747.0,553.3 744.0,553.7 743.0,554.0" fill="none" stroke="#a8503f" stroke-width="1.2"/>
<path d="M763.0,528.0C762.5,528.0 760.5,528.0 760.0,528.0" fill="none" stroke="#a8503f" stroke-width="1.2"/>
<path d="M749.0,552.0C748.8,553.3 748.2,558.7 748.0,560.0" fill="none" stroke="#a8503f" stroke-width="1.2"/>
<path d="M753.0,526.0C752.2,526.3 748.8,527.7 748.0,528.0" fill="none" stroke="#a8503f" stroke-width="1.2"/>
<path d="M889.6,482.0C890.0,480.7 891.1,476.0 892.0,474.0C892.9,472.0 893.7,471.2 895.0,470.0C896.3,468.8 898.0,467.3 900.0,466.5C902.0,465.7 904.5,465.2 907.0,465.0C909.5,464.8 912.3,465.2 915.0,465.5C917.7,465.8 920.3,466.2 923.0,467.0C925.7,467.8 928.4,469.1 931.0,470.5C933.6,471.9 936.0,473.6 938.5,475.4C941.0,477.1 943.4,479.1 946.0,481.0C948.6,482.9 951.7,484.8 954.0,487.0C956.3,489.2 958.2,491.4 960.0,494.0C961.8,496.6 962.6,499.0 964.6,502.5C966.6,506.0 969.4,510.7 972.0,515.0C974.6,519.3 977.3,524.2 980.0,528.5C982.7,532.8 985.3,536.6 988.0,541.0C990.7,545.4 993.8,550.6 996.0,554.6C998.2,558.6 999.3,561.1 1001.0,565.0C1002.7,568.9 1005.2,575.8 1006.0,578.0" stroke="#9a4b3b" stroke-width="1.8" fill="none"/>
<path d="M885.0,512.0C885.2,510.0 885.4,503.0 886.0,500.0C886.6,497.0 887.0,495.3 888.5,494.0C890.0,492.7 892.8,492.5 895.0,492.0C897.2,491.5 899.5,491.0 902.0,491.0C904.5,491.0 907.4,491.5 910.0,492.0C912.6,492.5 915.4,493.0 917.7,494.0C920.0,495.0 922.1,496.6 924.0,498.0C925.9,499.4 927.3,500.9 929.0,502.5C930.7,504.1 932.4,505.8 934.0,507.5C935.6,509.2 936.8,510.4 938.5,513.0C940.2,515.6 942.2,519.5 944.0,523.0C945.8,526.5 947.3,530.2 949.0,533.7C950.7,537.2 952.3,540.5 954.0,544.0C955.7,547.5 957.6,551.1 959.4,554.6C961.2,558.1 963.7,563.3 964.6,565.0" stroke="#9a4b3b" stroke-width="1.8" fill="none"/>
<path d="M886.0,520.0C886.3,518.0 887.0,511.3 888.0,508.0C889.0,504.7 890.3,502.0 892.0,500.0C893.7,498.0 897.0,496.7 898.0,496.0" stroke="#9a4b3b" stroke-width="1.4" fill="none"/>
<path d="M945.0,488.0C946.5,490.0 951.5,495.5 954.0,500.0C956.5,504.5 958.0,509.2 960.0,515.0C962.0,520.8 964.0,528.2 966.0,535.0C968.0,541.8 970.0,549.3 972.0,556.0C974.0,562.7 977.0,571.8 978.0,575.0" stroke="#9a4b3b" stroke-width="1.4" fill="none"/>
<path d="M899,463.5 C907,455 920,455.5 933,463 C950,472 968,488 980,504 C986,512 990,518 993,524 C988,517 982,510 976,504 C962,489 948,478 931,469 C919,463 908,461 899,463.5Z" fill="#fbe6dc"/>
<path d="M843.7,494.0C843.4,492.8 842.5,489.1 842.0,487.0C841.5,484.9 841.4,483.8 840.6,481.6C839.8,479.4 838.3,476.1 837.0,474.0C835.7,471.9 835.2,470.2 833.0,469.0C830.8,467.8 827.1,467.3 824.0,467.0C820.9,466.7 817.9,466.8 814.6,467.0C811.3,467.2 807.5,467.8 804.0,468.5C800.5,469.2 796.9,469.8 793.7,471.0C790.5,472.2 787.6,474.2 785.0,476.0C782.4,477.8 780.3,479.4 778.0,481.6C775.7,483.8 773.2,486.3 771.0,489.0C768.8,491.7 766.8,495.1 764.6,498.0C762.4,500.9 760.4,502.9 758.0,506.6C755.6,510.3 752.7,514.4 750.0,520.0C747.3,525.6 744.5,533.3 742.0,540.0C739.5,546.7 737.3,553.3 735.0,560.0C732.7,566.7 729.2,576.7 728.0,580.0" stroke="#9a4b3b" stroke-width="1.8" fill="none"/>
<path d="M822.0,494.0C820.5,494.2 816.0,494.3 813.0,495.0C810.0,495.7 806.5,496.8 804.0,498.0C801.5,499.2 799.7,500.6 798.0,502.0C796.3,503.4 795.4,504.6 793.7,506.6C792.0,508.6 789.8,511.3 788.0,514.0C786.2,516.7 784.5,519.8 783.0,523.0C781.5,526.2 780.3,529.5 779.0,533.0C777.7,536.5 776.3,540.8 775.0,544.0C773.7,547.2 772.2,549.5 771.0,552.0C769.8,554.5 768.2,557.6 767.7,558.7" stroke="#9a4b3b" stroke-width="1.8" fill="none"/>
<path d="M822,492 C832,491 840,494 844,502 C849,514 850,526 854,534 C857,540 861,543.5 865,543.5 C870,543.5 876,540 880,532 C884,522 886,510 888,495 L890,495 C889,512 888,526 884,536 C880,546 872,551 865,551 C857,551 851,546 847,538 C842,528 842,514 838,505 C834,498 828,497 822,497 Z" fill="#b56a57"/>
<path d="M822,492 C832,491 840,494 844,502 C849,514 850,526 854,534 C857,540 861,543.5 865,543.5 C861,545.5 855,543 851.5,537 C847,528 846,515 841,505 C837,498 830,496.5 822,497 Z" fill="#93402f"/>
</g>
<clipPath id="tl"><rect x="600" y="500" width="264" height="400"/></clipPath>
<clipPath id="tr"><rect x="864" y="500" width="300" height="400"/></clipPath>
<clipPath id="tall"><path d="M700.0,640.0C701.8,624.7 705.2,616.2 708.0,608.0C710.8,599.8 713.3,596.0 717.0,591.0C720.7,586.0 725.3,581.6 730.0,578.0C734.7,574.4 739.5,571.8 745.0,569.5C750.5,567.2 756.8,565.2 763.0,564.0C769.2,562.8 772.8,562.2 782.0,562.5C791.2,562.8 805.8,563.8 818.0,565.5C830.2,567.2 847.0,571.2 855.0,573.0C863.0,574.8 862.3,576.0 866.0,576.0C869.7,576.0 869.0,574.8 877.0,573.0C885.0,571.2 901.8,567.2 914.0,565.5C926.2,563.8 940.8,562.8 950.0,562.5C959.2,562.2 962.8,562.8 969.0,564.0C975.2,565.2 981.5,567.2 987.0,569.5C992.5,571.8 997.3,574.4 1002.0,578.0C1006.7,581.6 1011.3,586.0 1015.0,591.0C1018.7,596.0 1021.2,599.8 1024.0,608.0C1026.8,616.2 1030.2,624.7 1032.0,640.0C1033.8,655.3 1039.5,681.7 1035.0,700.0C1030.5,718.3 1020.0,736.3 1005.0,750.0C990.0,763.7 968.2,775.0 945.0,782.0C921.8,789.0 892.3,792.0 866.0,792.0C839.7,792.0 810.2,789.0 787.0,782.0C763.8,775.0 742.0,763.7 727.0,750.0C712.0,736.3 701.5,718.3 697.0,700.0C692.5,681.7 698.2,655.3 700.0,640.0Z"/></clipPath>
<path d="M700.0,640.0C701.8,624.7 705.2,616.2 708.0,608.0C710.8,599.8 713.3,596.0 717.0,591.0C720.7,586.0 725.3,581.6 730.0,578.0C734.7,574.4 739.5,571.8 745.0,569.5C750.5,567.2 756.8,565.2 763.0,564.0C769.2,562.8 772.8,562.2 782.0,562.5C791.2,562.8 805.8,563.8 818.0,565.5C830.2,567.2 847.0,571.2 855.0,573.0C863.0,574.8 862.3,576.0 866.0,576.0C869.7,576.0 869.0,574.8 877.0,573.0C885.0,571.2 901.8,567.2 914.0,565.5C926.2,563.8 940.8,562.8 950.0,562.5C959.2,562.2 962.8,562.8 969.0,564.0C975.2,565.2 981.5,567.2 987.0,569.5C992.5,571.8 997.3,574.4 1002.0,578.0C1006.7,581.6 1011.3,586.0 1015.0,591.0C1018.7,596.0 1021.2,599.8 1024.0,608.0C1026.8,616.2 1030.2,624.7 1032.0,640.0C1033.8,655.3 1039.5,681.7 1035.0,700.0C1030.5,718.3 1020.0,736.3 1005.0,750.0C990.0,763.7 968.2,775.0 945.0,782.0C921.8,789.0 892.3,792.0 866.0,792.0C839.7,792.0 810.2,789.0 787.0,782.0C763.8,775.0 742.0,763.7 727.0,750.0C712.0,736.3 701.5,718.3 697.0,700.0C692.5,681.7 698.2,655.3 700.0,640.0Z" fill="url(#gtl)" clip-path="url(#tl)"/>
<path d="M700.0,640.0C701.8,624.7 705.2,616.2 708.0,608.0C710.8,599.8 713.3,596.0 717.0,591.0C720.7,586.0 725.3,581.6 730.0,578.0C734.7,574.4 739.5,571.8 745.0,569.5C750.5,567.2 756.8,565.2 763.0,564.0C769.2,562.8 772.8,562.2 782.0,562.5C791.2,562.8 805.8,563.8 818.0,565.5C830.2,567.2 847.0,571.2 855.0,573.0C863.0,574.8 862.3,576.0 866.0,576.0C869.7,576.0 869.0,574.8 877.0,573.0C885.0,571.2 901.8,567.2 914.0,565.5C926.2,563.8 940.8,562.8 950.0,562.5C959.2,562.2 962.8,562.8 969.0,564.0C975.2,565.2 981.5,567.2 987.0,569.5C992.5,571.8 997.3,574.4 1002.0,578.0C1006.7,581.6 1011.3,586.0 1015.0,591.0C1018.7,596.0 1021.2,599.8 1024.0,608.0C1026.8,616.2 1030.2,624.7 1032.0,640.0C1033.8,655.3 1039.5,681.7 1035.0,700.0C1030.5,718.3 1020.0,736.3 1005.0,750.0C990.0,763.7 968.2,775.0 945.0,782.0C921.8,789.0 892.3,792.0 866.0,792.0C839.7,792.0 810.2,789.0 787.0,782.0C763.8,775.0 742.0,763.7 727.0,750.0C712.0,736.3 701.5,718.3 697.0,700.0C692.5,681.7 698.2,655.3 700.0,640.0Z" fill="url(#gtr)" clip-path="url(#tr)"/>
<g clip-path="url(#tall)">
<ellipse cx="818" cy="725" rx="42" ry="75" fill="#f6c3b3" opacity="0.45" filter="url(#soft3)"/>
<ellipse cx="935" cy="690" rx="70" ry="90" fill="#f0a27f" opacity="0.45" filter="url(#soft3)"/>
<rect x="864" y="540" width="200" height="260" fill="url(#hatch)"/>
<path d="M735.1,555.0 C707.4,620.0 708.9,700.0 730.5,795.0" stroke="#c9584b" stroke-width="1.7" fill="none"/>
<path d="M745.3,555.0 C719.7,620.0 721.2,700.0 741.0,795.0" stroke="#c9584b" stroke-width="1.7" fill="none"/>
<path d="M756.4,555.0 C733.1,620.0 734.4,700.0 752.5,795.0" stroke="#c9584b" stroke-width="1.7" fill="none"/>
<path d="M767.4,555.0 C746.5,620.0 747.7,700.0 763.9,795.0" stroke="#c9584b" stroke-width="1.7" fill="none"/>
<path d="M778.5,555.0 C759.9,620.0 760.9,700.0 775.4,795.0" stroke="#c9584b" stroke-width="1.7" fill="none"/>
<path d="M789.5,555.0 C773.3,620.0 774.2,700.0 786.8,795.0" stroke="#c9584b" stroke-width="1.7" fill="none"/>
<path d="M800.5,555.0 C786.7,620.0 787.5,700.0 798.2,795.0" stroke="#c9584b" stroke-width="1.7" fill="none"/>
<path d="M811.6,555.0 C800.1,620.0 800.7,700.0 809.7,795.0" stroke="#c9584b" stroke-width="1.7" fill="none"/>
<path d="M822.6,555.0 C813.5,620.0 814.0,700.0 821.1,795.0" stroke="#c9584b" stroke-width="1.7" fill="none"/>
<path d="M832.0,555.0 C824.8,620.0 825.2,700.0 830.8,795.0" stroke="#c9584b" stroke-width="1.7" fill="none"/>
<path d="M841.4,555.0 C836.1,620.0 836.4,700.0 840.5,795.0" stroke="#c9584b" stroke-width="1.7" fill="none"/>
<path d="M850.7,555.0 C847.5,620.0 847.6,700.0 850.2,795.0" stroke="#c9584b" stroke-width="1.7" fill="none"/>
<path d="M845,572 C853,585 857,600 857.5,620 L858,775" stroke="#fbded3" stroke-width="2.2" fill="none" opacity="0.9"/>
<path d="M736,615 C735,640 736,660 738,680" stroke="#fbded3" stroke-width="1.6" fill="none" opacity="0.8"/>
<path d="M864,574 L864,795" stroke="#c4604c" stroke-width="1.4" fill="none"/>
</g>
<path d="M700.0,640.0C701.3,634.7 705.2,616.2 708.0,608.0C710.8,599.8 713.3,596.0 717.0,591.0C720.7,586.0 725.3,581.6 730.0,578.0C734.7,574.4 739.5,571.8 745.0,569.5C750.5,567.2 756.8,565.2 763.0,564.0C769.2,562.8 772.8,562.2 782.0,562.5C791.2,562.8 805.8,563.8 818.0,565.5C830.2,567.2 847.0,571.2 855.0,573.0C863.0,574.8 862.3,576.0 866.0,576.0C869.7,576.0 869.0,574.8 877.0,573.0C885.0,571.2 901.8,567.2 914.0,565.5C926.2,563.8 940.8,562.8 950.0,562.5C959.2,562.2 962.8,562.8 969.0,564.0C975.2,565.2 981.5,567.2 987.0,569.5C992.5,571.8 997.3,574.4 1002.0,578.0C1006.7,581.6 1011.3,586.0 1015.0,591.0C1018.7,596.0 1021.2,599.8 1024.0,608.0C1026.8,616.2 1030.7,634.7 1032.0,640.0" fill="none" stroke="#b5533f" stroke-width="1.8"/>
<path d="M665.0,402.0C661.8,405.2 661.8,410.3 661.0,414.0C660.2,417.7 660.2,421.0 660.5,424.0C660.8,427.0 661.9,429.7 663.0,432.0C664.1,434.3 665.6,435.5 667.0,438.0C668.4,440.5 669.7,444.4 671.5,447.0C673.3,449.6 675.7,452.2 678.0,453.4C680.3,454.6 683.7,454.8 685.4,454.3C687.1,453.8 686.8,450.6 688.0,450.6C689.2,450.6 691.0,454.0 692.8,454.3C694.6,454.6 697.1,454.2 699.0,452.5C700.9,450.8 702.4,446.5 704.0,444.0C705.6,441.5 706.7,439.5 708.5,437.7C710.3,435.9 713.0,435.6 715.0,433.0C717.0,430.4 719.3,425.2 720.5,422.0C721.7,418.8 725.4,417.7 722.0,414.0C718.6,410.3 707.0,403.2 700.0,400.0C693.0,396.8 685.8,394.7 680.0,395.0C674.2,395.3 668.2,398.8 665.0,402.0Z" fill="#fff" stroke="#1d1d1b" stroke-width="2.2" stroke-linejoin="round"/>
<path d="M675.0,389.0C670.3,391.3 668.7,391.9 667.0,394.0C665.3,396.1 665.0,399.0 665.0,401.7C665.0,404.4 665.9,407.5 667.0,410.0C668.1,412.5 669.2,414.7 671.5,416.5C673.8,418.3 677.7,419.3 680.8,421.0C683.9,422.7 687.4,424.6 690.0,426.6C692.6,428.6 694.2,431.0 696.5,433.0C698.8,435.0 702.0,437.8 704.0,438.6C706.0,439.4 706.7,438.6 708.5,437.7C710.3,436.8 713.0,435.6 715.0,433.0C717.0,430.4 719.0,425.1 720.5,422.0C722.0,418.9 722.5,417.4 724.0,414.6C725.5,411.8 728.0,408.8 729.7,405.0C731.4,401.2 736.5,395.3 734.0,392.0C731.5,388.7 721.5,387.0 715.0,385.0C708.5,383.0 701.7,379.3 695.0,380.0C688.3,380.7 679.7,386.7 675.0,389.0Z" fill="#fff" stroke="#1d1d1b" stroke-width="2.2" stroke-linejoin="round"/>
<path d="M681.0,371.0C679.5,374.0 678.0,377.0 677.0,380.0C676.0,383.0 674.8,386.7 675.0,389.0C675.2,391.3 676.0,392.2 678.0,394.0C680.0,395.8 683.9,398.2 687.0,400.0C690.1,401.8 693.7,402.4 696.5,404.5C699.3,406.6 701.6,410.6 704.0,412.8C706.4,415.1 708.7,417.0 711.0,418.0C713.3,419.0 715.5,419.4 717.7,418.8C719.9,418.2 722.0,416.9 724.0,414.6C726.0,412.3 728.0,408.9 729.7,405.0C731.4,401.1 733.2,396.1 734.3,391.5C735.3,386.9 737.5,382.1 736.0,377.7C734.5,373.3 729.3,368.6 725.0,365.0C720.7,361.4 715.0,357.5 710.0,356.0C705.0,354.5 699.0,355.0 695.0,356.0C691.0,357.0 688.3,359.5 686.0,362.0C683.7,364.5 682.5,368.0 681.0,371.0Z" fill="#fff" stroke="#1d1d1b" stroke-width="2.2" stroke-linejoin="round"/>
<path d="M704.6,318.0C702.6,319.8 701.1,323.3 700.0,327.0C698.9,330.7 698.2,335.7 698.0,340.0C697.8,344.3 698.2,349.3 699.0,353.0C699.8,356.7 701.3,359.7 703.0,362.0C704.7,364.3 706.8,365.7 709.0,367.0C711.2,368.3 713.8,368.8 716.0,370.0C718.2,371.2 719.8,372.8 722.0,374.0C724.2,375.2 726.7,376.9 729.0,377.5C731.3,378.1 733.8,378.6 736.0,377.7C738.2,376.8 740.6,374.9 742.0,372.0C743.4,369.1 744.2,364.0 744.5,360.0C744.8,356.0 745.6,352.2 744.0,348.0C742.4,343.8 738.7,339.3 735.0,335.0C731.3,330.7 725.8,325.2 722.0,322.0C718.2,318.8 714.9,316.7 712.0,316.0C709.1,315.3 706.6,316.2 704.6,318.0Z" fill="#fff" stroke="#1d1d1b" stroke-width="2.2" stroke-linejoin="round"/>
<path d="M723.0,287.5C721.1,289.3 719.6,292.8 718.5,296.0C717.4,299.2 716.9,302.1 716.6,307.0C716.3,311.9 715.8,319.9 716.6,325.4C717.4,330.9 719.4,336.0 721.3,340.0C723.1,344.0 725.6,346.6 727.7,349.4C729.9,352.2 731.9,355.1 734.2,356.8C736.5,358.5 738.8,359.9 741.6,359.6C744.4,359.3 748.3,357.6 750.8,355.0C753.2,352.4 755.0,348.1 756.3,343.9C757.6,339.7 758.5,333.7 758.7,330.0C758.9,326.3 759.1,325.9 757.3,321.7C755.5,317.5 751.2,310.3 748.0,305.0C744.8,299.7 741.0,293.3 738.0,290.0C735.0,286.7 732.5,285.4 730.0,285.0C727.5,284.6 724.9,285.7 723.0,287.5Z" fill="#fff" stroke="#1d1d1b" stroke-width="2.2" stroke-linejoin="round"/>
<path d="M750.0,256.7C746.4,256.7 743.1,259.1 741.0,261.0C738.9,262.9 738.2,264.0 737.3,268.0C736.4,272.0 735.0,279.0 735.4,285.0C735.8,291.0 737.8,298.7 739.8,304.0C741.8,309.3 744.4,314.0 747.4,317.0C750.4,320.0 754.0,322.2 757.6,322.0C761.2,321.8 765.6,320.0 769.0,316.0C772.4,312.0 776.9,302.5 778.0,298.0C779.1,293.5 776.7,293.2 775.4,289.0C774.1,284.8 772.1,277.3 770.0,272.6C767.9,267.9 766.0,263.6 762.7,261.0C759.4,258.4 753.6,256.7 750.0,256.7Z" fill="#fff" stroke="#1d1d1b" stroke-width="2.2" stroke-linejoin="round"/>
<path d="M680.4,373.4C681.6,374.6 684.5,378.9 687.1,380.6C689.7,382.2 692.8,381.6 696.0,383.5C699.2,385.4 704.5,390.5 706.2,391.9L707.0,391.1C705.5,389.3 701.0,382.8 698.0,380.5C695.0,378.3 691.7,378.8 688.9,377.4C686.1,376.1 682.4,373.4 681.2,372.6Z" fill="#4d4d4d"/>
<path d="M680.5,407.5C681.6,408.3 684.9,410.9 687.0,412.5C689.2,414.1 691.5,414.9 693.6,417.1C695.7,419.4 698.5,424.5 699.5,426.0L700.5,425.4C699.8,423.7 698.3,417.5 696.4,414.9C694.5,412.2 691.5,410.9 689.0,409.5C686.4,408.1 682.4,407.0 681.1,406.5Z" fill="#4d4d4d"/>
<path d="M669.5,435.5C670.6,436.2 674.1,438.1 676.1,439.5C678.1,441.0 679.9,442.2 681.6,444.1C683.3,446.0 685.7,449.7 686.5,450.9L687.5,450.3C687.0,448.9 686.0,444.2 684.4,441.9C682.8,439.6 680.3,437.7 677.9,436.5C675.5,435.2 671.3,434.8 669.9,434.5Z" fill="#4d4d4d"/>
<path d="M725.3,342.5C726.9,341.8 732.2,340.3 735.1,338.4C737.9,336.5 740.5,333.8 742.4,331.1C744.3,328.4 746.0,323.5 746.7,322.0L745.7,321.4C744.7,322.6 741.7,326.5 739.6,328.9C737.5,331.3 735.4,333.5 732.9,335.6C730.5,337.7 726.1,340.5 724.7,341.5Z" fill="#4d4d4d"/>
<path d="M717.0,367.6C717.9,367.3 720.7,366.9 722.3,365.4C723.9,364.0 725.8,360.2 726.5,359.1L725.3,358.1C724.4,358.8 721.2,361.2 719.7,362.6C718.2,363.9 716.8,365.7 716.2,366.4Z" fill="#4d4d4d"/>
<path d="M1025.7,441.4C1024.6,445.2 1027.3,446.0 1028.5,448.0C1029.7,450.0 1031.3,452.2 1033.0,453.4C1034.7,454.6 1037.0,455.6 1038.6,455.3C1040.1,455.0 1040.9,451.5 1042.3,451.6C1043.7,451.7 1045.2,455.1 1047.0,456.0C1048.8,456.9 1051.4,457.7 1053.4,457.0C1055.4,456.3 1057.5,454.1 1059.0,451.6C1060.5,449.2 1061.7,445.1 1062.6,442.3C1063.5,439.5 1063.3,437.1 1064.5,435.0C1065.7,432.9 1068.8,431.6 1070.0,429.4C1071.2,427.2 1072.1,424.6 1071.9,422.0C1071.7,419.4 1072.7,414.9 1069.0,413.7C1065.3,412.5 1055.7,413.1 1050.0,415.0C1044.3,416.9 1039.0,420.6 1035.0,425.0C1031.0,429.4 1026.8,437.6 1025.7,441.4Z" fill="#fff" stroke="#1d1d1b" stroke-width="2.2" stroke-linejoin="round"/>
<path d="M1011.0,420.0C1009.8,423.1 1011.6,425.7 1012.8,428.5C1014.0,431.3 1016.1,434.8 1018.3,436.8C1020.4,438.8 1023.2,440.5 1025.7,440.5C1028.2,440.5 1030.5,438.7 1033.0,436.8C1035.5,434.9 1037.7,431.7 1040.5,429.4C1043.3,427.1 1046.6,424.9 1049.7,423.0C1052.8,421.1 1056.5,419.7 1059.0,418.3C1061.5,416.9 1063.3,416.2 1064.5,414.6C1065.7,413.1 1066.3,411.1 1066.3,409.0C1066.3,406.9 1066.0,405.0 1064.5,401.7C1063.0,398.4 1061.1,390.1 1057.0,389.0C1052.9,387.9 1046.2,391.5 1040.0,395.0C1033.8,398.5 1024.8,405.8 1020.0,410.0C1015.2,414.2 1012.2,416.9 1011.0,420.0Z" fill="#fff" stroke="#1d1d1b" stroke-width="2.2" stroke-linejoin="round"/>
<path d="M998.0,381.4C996.7,384.5 996.7,386.0 997.0,388.8C997.3,391.6 998.6,395.0 1000.0,398.0C1001.4,401.0 1003.6,404.2 1005.4,407.0C1007.2,409.8 1008.9,412.6 1011.0,414.6C1013.1,416.6 1016.1,418.4 1018.3,419.0C1020.5,419.6 1022.3,418.9 1024.0,418.0C1025.7,417.1 1026.7,415.8 1028.5,413.7C1030.3,411.6 1032.8,407.4 1035.0,405.4C1037.2,403.4 1039.5,402.9 1042.0,401.7C1044.5,400.5 1047.7,399.5 1049.7,398.0C1051.7,396.5 1053.0,394.3 1054.0,392.5C1055.0,390.7 1056.1,389.5 1056.0,387.0C1055.9,384.5 1054.5,380.8 1053.4,377.7C1052.4,374.6 1050.9,371.6 1049.7,368.5C1048.5,365.4 1047.6,362.1 1046.0,359.0C1044.4,355.9 1042.7,352.3 1040.0,350.0C1037.3,347.7 1034.2,344.2 1030.0,345.0C1025.8,345.8 1019.2,350.8 1015.0,355.0C1010.8,359.2 1007.8,365.6 1005.0,370.0C1002.2,374.4 999.3,378.3 998.0,381.4Z" fill="#fff" stroke="#1d1d1b" stroke-width="2.2" stroke-linejoin="round"/>
<path d="M1018.6,316.0C1021.4,316.3 1024.8,318.9 1027.0,321.7C1029.2,324.5 1030.7,328.3 1031.6,332.8C1032.5,337.3 1032.8,343.9 1032.5,348.5C1032.2,353.1 1031.1,357.6 1029.7,360.5C1028.3,363.4 1026.5,364.7 1024.0,366.0C1021.5,367.3 1017.2,367.2 1015.0,368.5C1012.8,369.8 1012.8,372.0 1011.0,374.0C1009.2,376.0 1006.4,379.2 1004.0,380.5C1001.6,381.8 998.7,382.3 996.5,381.7C994.3,381.1 992.6,379.1 991.0,377.0C989.4,374.9 987.9,372.1 987.0,369.0C986.1,365.9 984.9,362.6 985.4,358.6C985.9,354.6 987.6,349.8 990.0,345.0C992.4,340.2 996.7,334.2 1000.0,330.0C1003.3,325.8 1006.9,322.3 1010.0,320.0C1013.1,317.7 1015.8,315.7 1018.6,316.0Z" fill="#fff" stroke="#1d1d1b" stroke-width="2.2" stroke-linejoin="round"/>
<path d="M998.0,286.6C1001.0,285.5 1003.5,286.9 1005.7,288.5C1007.9,290.1 1009.5,292.2 1011.0,296.0C1012.5,299.8 1014.2,306.6 1015.0,311.5C1015.8,316.4 1016.3,321.5 1016.0,325.4C1015.7,329.2 1014.2,331.8 1013.0,334.6C1011.8,337.4 1010.0,339.3 1008.5,342.0C1007.0,344.7 1006.0,348.4 1004.0,351.0C1002.0,353.6 999.0,356.3 996.5,357.7C994.0,359.1 991.5,359.9 989.0,359.6C986.5,359.3 983.9,358.2 981.7,356.0C979.5,353.8 977.5,350.2 976.0,346.6C974.5,343.0 972.9,338.5 972.5,334.6C972.1,330.8 972.1,327.6 973.4,323.5C974.6,319.4 977.6,314.8 980.0,310.0C982.4,305.2 985.0,298.9 988.0,295.0C991.0,291.1 995.0,287.7 998.0,286.6Z" fill="#fff" stroke="#1d1d1b" stroke-width="2.2" stroke-linejoin="round"/>
<path d="M981.0,257.0C983.8,257.7 987.7,259.5 990.0,262.0C992.3,264.5 993.9,268.2 995.0,272.0C996.1,275.8 996.5,281.0 996.5,285.0C996.5,289.0 995.9,292.3 995.0,296.0C994.1,299.7 992.9,303.2 991.0,307.0C989.1,310.8 986.3,316.4 983.5,319.0C980.7,321.6 977.5,323.1 974.3,322.6C971.0,322.1 967.2,318.9 964.0,316.0C960.8,313.1 957.0,308.8 955.0,305.0C953.0,301.2 952.2,296.8 952.0,293.0C951.8,289.2 953.0,285.5 954.0,282.0C955.0,278.5 956.0,275.3 958.0,272.0C960.0,268.7 963.5,264.3 966.0,262.0C968.5,259.7 970.5,258.8 973.0,258.0C975.5,257.2 978.2,256.3 981.0,257.0Z" fill="#fff" stroke="#1d1d1b" stroke-width="2.2" stroke-linejoin="round"/>
<path d="M983.1,327.4C984.0,328.9 986.4,333.9 988.8,336.3C991.2,338.7 994.4,340.6 997.3,341.6C1000.3,342.7 1004.9,342.4 1006.5,342.6L1006.7,341.4C1005.4,340.9 1001.3,339.7 998.7,338.4C996.1,337.1 993.6,335.6 991.2,333.7C988.7,331.7 985.2,327.8 983.9,326.6Z" fill="#4d4d4d"/>
<path d="M1004.8,361.5C1005.3,362.5 1006.2,366.2 1007.8,367.5C1009.4,368.8 1013.2,368.9 1014.3,369.2L1014.9,367.8C1014.1,367.2 1011.7,365.7 1010.2,364.5C1008.8,363.3 1006.7,361.2 1006.0,360.5Z" fill="#4d4d4d"/>
<path d="M1024.4,393.8C1025.8,393.0 1029.4,390.2 1032.8,388.6C1036.3,387.0 1042.2,386.9 1045.1,384.4C1048.0,381.8 1049.3,375.1 1050.2,373.3L1049.2,372.7C1048.2,374.2 1045.9,379.5 1042.9,381.6C1039.9,383.7 1034.4,383.5 1031.2,385.4C1028.0,387.3 1024.9,391.7 1023.6,393.0Z" fill="#4d4d4d"/>
<path d="M1030.5,426.9C1031.3,425.8 1033.2,422.1 1035.3,420.2C1037.3,418.3 1040.3,417.2 1042.8,415.6C1045.4,413.9 1049.5,411.4 1050.8,410.5L1050.4,409.5C1048.8,410.0 1044.1,411.1 1041.2,412.4C1038.2,413.8 1034.7,415.5 1032.7,417.8C1030.8,420.1 1030.0,424.9 1029.5,426.3Z" fill="#4d4d4d"/>
<path d="M1043.5,450.0C1044.3,449.0 1046.4,446.0 1048.3,444.2C1050.2,442.5 1052.6,441.0 1054.8,439.6C1057.1,438.1 1060.7,436.2 1061.9,435.5L1061.5,434.5C1060.1,434.8 1055.8,435.2 1053.2,436.4C1050.5,437.7 1047.5,439.6 1045.7,441.8C1043.9,443.9 1043.0,448.1 1042.5,449.4Z" fill="#4d4d4d"/>
<path d="M776.5,287.0 C773.5,272.0 773.5,255.0 778.9,243.0 C783.6,230.0 801.9,230.0 806.6,243.0 C812.0,255.0 812.0,272.0 809.0,287.0 C800.0,289.0 785.5,289.0 776.5,287.0 Z" fill="#fff" stroke="#1d1d1b" stroke-width="2.2" stroke-linejoin="round"/>
<path d="M922.0,287.0 C919.0,272.0 919.0,255.0 924.4,243.0 C929.1,230.0 947.4,230.0 952.1,243.0 C957.5,255.0 957.5,272.0 954.5,287.0 C945.5,289.0 931.0,289.0 922.0,287.0 Z" fill="#fff" stroke="#1d1d1b" stroke-width="2.2" stroke-linejoin="round"/>
<path d="M814.5,288.0 C811.5,273.0 811.5,246.0 818.7,234.0 C825.5,221.0 851.5,221.0 858.3,234.0 C865.5,246.0 865.5,273.0 862.5,288.0 C848.9,290.0 828.1,290.0 814.5,288.0 Z" fill="#fff" stroke="#1d1d1b" stroke-width="2.2" stroke-linejoin="round"/>
<path d="M868.5,288.0 C865.5,273.0 865.5,246.0 872.7,234.0 C879.5,221.0 905.5,221.0 912.3,234.0 C919.5,246.0 919.5,273.0 916.5,288.0 C902.9,290.0 882.1,290.0 868.5,288.0 Z" fill="#fff" stroke="#1d1d1b" stroke-width="2.2" stroke-linejoin="round"/>
<path d="M735,735 C760,760 810,775 866,777 C920,775 972,760 997,735 C985,775 930,792 866,793 C800,792 748,775 735,735Z" fill="#b04a3a"/>
<path d="M646.8,619.0C646.2,614.1 647.1,610.7 648.6,607.7C650.1,604.7 652.9,602.3 656.0,601.0C659.1,599.7 663.3,599.5 667.0,600.0C670.7,600.5 674.3,603.2 678.0,604.0C681.7,604.8 685.3,604.4 689.0,605.0C692.7,605.6 696.9,606.0 700.0,607.7C703.1,609.4 706.1,611.6 707.7,615.0C709.3,618.4 710.1,623.8 709.6,628.0C709.1,632.2 708.3,637.2 705.0,640.0C701.7,642.8 696.7,644.2 690.0,645.0C683.3,645.8 671.3,646.3 665.0,645.0C658.7,643.7 655.0,641.3 652.0,637.0C649.0,632.7 647.4,623.9 646.8,619.0Z" fill="#fff" stroke="#1d1d1b" stroke-width="2.2" stroke-linejoin="round"/>
<path d="M654.0,652.0C653.3,648.0 654.4,644.4 656.0,641.0C657.6,637.6 660.3,633.5 663.4,631.7C666.5,629.9 670.2,629.9 674.5,630.0C678.8,630.1 684.1,632.0 689.0,632.6C693.9,633.2 699.7,632.5 704.0,633.6C708.3,634.7 712.1,636.3 715.0,639.0C717.9,641.7 720.7,646.3 721.6,650.0C722.5,653.7 721.4,657.9 720.6,661.0C719.8,664.1 720.4,665.4 717.0,668.6C713.6,671.8 707.0,678.4 700.0,680.0C693.0,681.6 681.7,680.5 675.0,678.0C668.3,675.5 663.5,669.3 660.0,665.0C656.5,660.7 654.7,656.0 654.0,652.0Z" fill="#fff" stroke="#1d1d1b" stroke-width="2.2" stroke-linejoin="round"/>
<path d="M668.0,685.0C667.4,680.3 668.8,676.9 670.8,674.0C672.8,671.1 676.3,668.6 680.0,667.7C683.7,666.8 688.4,668.8 693.0,668.6C697.6,668.5 703.1,666.9 707.7,666.8C712.3,666.6 716.9,666.5 720.6,667.7C724.3,668.9 727.8,671.4 730.0,674.0C732.2,676.6 732.1,680.3 733.6,683.4C735.1,686.5 737.6,689.2 739.0,692.6C740.4,696.0 742.0,700.3 742.0,703.7C742.0,707.1 741.8,710.0 739.0,713.0C736.2,716.0 731.5,720.5 725.0,722.0C718.5,723.5 707.2,723.7 700.0,722.0C692.8,720.3 686.2,715.3 682.0,712.0C677.8,708.7 676.8,706.5 674.5,702.0C672.2,697.5 668.6,689.7 668.0,685.0Z" fill="#fff" stroke="#1d1d1b" stroke-width="2.2" stroke-linejoin="round"/>
<path d="M698.4,724.6C699.4,720.8 700.5,717.7 703.0,715.4C705.5,713.1 709.9,711.3 713.4,710.7C716.9,710.1 720.3,711.6 723.8,712.0C727.3,712.4 730.8,712.0 734.2,713.0C737.7,714.0 741.6,715.4 744.5,717.7C747.4,720.0 750.0,724.0 751.5,727.0C753.0,730.0 754.0,731.8 753.8,736.0C753.5,740.2 753.1,747.2 750.0,752.0C746.9,756.8 740.3,762.3 735.0,765.0C729.7,767.7 722.4,768.4 718.0,768.4C713.6,768.4 711.7,767.3 708.8,765.0C705.9,762.7 702.6,759.0 700.7,754.6C698.8,750.2 697.7,743.4 697.3,738.4C696.9,733.4 697.4,728.4 698.4,724.6Z" fill="#fff" stroke="#1d1d1b" stroke-width="2.2" stroke-linejoin="round"/>
<path d="M722.7,747.6C724.2,743.2 726.7,740.3 729.6,738.4C732.5,736.5 736.4,736.0 740.0,736.0C743.6,736.0 748.0,737.6 751.5,738.4C755.0,739.2 757.8,739.2 760.7,740.7C763.6,742.2 766.9,744.9 768.8,747.6C770.7,750.3 771.5,754.0 772.2,756.9C772.9,759.8 773.5,761.1 772.8,765.0C772.1,768.9 770.1,775.8 768.0,780.0C765.9,784.2 763.2,787.7 760.0,790.0C756.8,792.3 752.7,792.9 749.0,793.7C745.3,794.5 741.0,795.8 737.6,795.0C734.2,794.2 730.9,791.7 728.4,789.0C725.9,786.3 724.1,782.8 722.7,778.8C721.4,774.8 720.3,770.2 720.3,765.0C720.3,759.8 721.2,752.0 722.7,747.6Z" fill="#fff" stroke="#1d1d1b" stroke-width="2.2" stroke-linejoin="round"/>
<path d="M753.8,770.7C755.7,766.7 759.5,764.9 763.0,763.8C766.5,762.6 771.0,763.3 774.5,763.8C778.0,764.3 780.6,764.9 783.7,767.0C786.8,769.1 791.0,773.0 793.0,776.5C795.0,780.0 795.8,784.2 795.8,788.0C795.8,791.8 794.6,795.8 793.0,799.5C791.4,803.2 788.7,807.3 786.0,810.0C783.3,812.7 779.9,814.5 776.8,815.6C773.7,816.7 770.5,817.4 767.6,816.8C764.7,816.2 761.8,814.3 759.5,812.0C757.2,809.7 755.1,807.0 753.8,803.0C752.5,799.0 751.5,793.4 751.5,788.0C751.5,782.6 751.9,774.7 753.8,770.7Z" fill="#fff" stroke="#1d1d1b" stroke-width="2.2" stroke-linejoin="round"/>
<path d="M1085.2,619.0C1085.8,614.1 1084.9,610.7 1083.4,607.7C1081.9,604.7 1079.1,602.3 1076.0,601.0C1072.9,599.7 1068.7,599.5 1065.0,600.0C1061.3,600.5 1057.7,603.2 1054.0,604.0C1050.3,604.8 1046.7,604.4 1043.0,605.0C1039.3,605.6 1035.1,606.0 1032.0,607.7C1028.9,609.4 1025.9,611.6 1024.3,615.0C1022.7,618.4 1021.9,623.8 1022.4,628.0C1022.9,632.2 1023.7,637.2 1027.0,640.0C1030.3,642.8 1035.3,644.2 1042.0,645.0C1048.7,645.8 1060.7,646.3 1067.0,645.0C1073.3,643.7 1077.0,641.3 1080.0,637.0C1083.0,632.7 1084.6,623.9 1085.2,619.0Z" fill="#fff" stroke="#1d1d1b" stroke-width="2.2" stroke-linejoin="round"/>
<path d="M1078.0,652.0C1078.7,648.0 1077.6,644.4 1076.0,641.0C1074.4,637.6 1071.7,633.5 1068.6,631.7C1065.5,629.9 1061.8,629.9 1057.5,630.0C1053.2,630.1 1047.9,632.0 1043.0,632.6C1038.1,633.2 1032.3,632.5 1028.0,633.6C1023.7,634.7 1019.9,636.3 1017.0,639.0C1014.1,641.7 1011.3,646.3 1010.4,650.0C1009.5,653.7 1010.6,657.9 1011.4,661.0C1012.2,664.1 1011.6,665.4 1015.0,668.6C1018.4,671.8 1025.0,678.4 1032.0,680.0C1039.0,681.6 1050.3,680.5 1057.0,678.0C1063.7,675.5 1068.5,669.3 1072.0,665.0C1075.5,660.7 1077.3,656.0 1078.0,652.0Z" fill="#fff" stroke="#1d1d1b" stroke-width="2.2" stroke-linejoin="round"/>
<path d="M1064.0,685.0C1064.6,680.3 1063.2,676.9 1061.2,674.0C1059.2,671.1 1055.7,668.6 1052.0,667.7C1048.3,666.8 1043.6,668.8 1039.0,668.6C1034.4,668.5 1028.9,666.9 1024.3,666.8C1019.7,666.6 1015.1,666.5 1011.4,667.7C1007.7,668.9 1004.2,671.4 1002.0,674.0C999.8,676.6 999.9,680.3 998.4,683.4C996.9,686.5 994.4,689.2 993.0,692.6C991.6,696.0 990.0,700.3 990.0,703.7C990.0,707.1 990.2,710.0 993.0,713.0C995.8,716.0 1000.5,720.5 1007.0,722.0C1013.5,723.5 1024.8,723.7 1032.0,722.0C1039.2,720.3 1045.8,715.3 1050.0,712.0C1054.2,708.7 1055.2,706.5 1057.5,702.0C1059.8,697.5 1063.4,689.7 1064.0,685.0Z" fill="#fff" stroke="#1d1d1b" stroke-width="2.2" stroke-linejoin="round"/>
<path d="M1033.6,724.6C1032.6,720.8 1031.5,717.7 1029.0,715.4C1026.5,713.1 1022.1,711.3 1018.6,710.7C1015.1,710.1 1011.7,711.6 1008.2,712.0C1004.7,712.4 1001.2,712.0 997.8,713.0C994.3,714.0 990.4,715.4 987.5,717.7C984.6,720.0 982.0,724.0 980.5,727.0C979.0,730.0 978.0,731.8 978.2,736.0C978.5,740.2 978.9,747.2 982.0,752.0C985.1,756.8 991.7,762.3 997.0,765.0C1002.3,767.7 1009.6,768.4 1014.0,768.4C1018.4,768.4 1020.3,767.3 1023.2,765.0C1026.1,762.7 1029.4,759.0 1031.3,754.6C1033.2,750.2 1034.3,743.4 1034.7,738.4C1035.1,733.4 1034.5,728.4 1033.6,724.6Z" fill="#fff" stroke="#1d1d1b" stroke-width="2.2" stroke-linejoin="round"/>
<path d="M1009.3,747.6C1007.8,743.2 1005.3,740.3 1002.4,738.4C999.5,736.5 995.6,736.0 992.0,736.0C988.4,736.0 984.0,737.6 980.5,738.4C977.0,739.2 974.2,739.2 971.3,740.7C968.4,742.2 965.1,744.9 963.2,747.6C961.3,750.3 960.5,754.0 959.8,756.9C959.1,759.8 958.5,761.1 959.2,765.0C959.9,768.9 961.9,775.8 964.0,780.0C966.1,784.2 968.8,787.7 972.0,790.0C975.2,792.3 979.3,792.9 983.0,793.7C986.7,794.5 991.0,795.8 994.4,795.0C997.8,794.2 1001.1,791.7 1003.6,789.0C1006.1,786.3 1007.9,782.8 1009.3,778.8C1010.6,774.8 1011.7,770.2 1011.7,765.0C1011.7,759.8 1010.8,752.0 1009.3,747.6Z" fill="#fff" stroke="#1d1d1b" stroke-width="2.2" stroke-linejoin="round"/>
<path d="M978.2,770.7C976.3,766.7 972.5,764.9 969.0,763.8C965.5,762.6 961.0,763.3 957.5,763.8C954.0,764.3 951.4,764.9 948.3,767.0C945.2,769.1 941.0,773.0 939.0,776.5C937.0,780.0 936.2,784.2 936.2,788.0C936.2,791.8 937.4,795.8 939.0,799.5C940.6,803.2 943.3,807.3 946.0,810.0C948.7,812.7 952.1,814.5 955.2,815.6C958.3,816.7 961.5,817.4 964.4,816.8C967.3,816.2 970.2,814.3 972.5,812.0C974.8,809.7 976.9,807.0 978.2,803.0C979.5,799.0 980.5,793.4 980.5,788.0C980.5,782.6 980.1,774.7 978.2,770.7Z" fill="#fff" stroke="#1d1d1b" stroke-width="2.2" stroke-linejoin="round"/>
<path d="M665.0,612.5C666.4,612.6 671.3,612.4 673.4,613.4C675.5,614.4 676.5,616.3 677.6,618.6C678.8,620.9 680.0,625.7 680.5,627.1L681.5,626.9C681.3,625.3 681.5,620.1 680.4,617.4C679.2,614.7 677.2,611.6 674.6,610.6C672.0,609.6 666.6,611.4 665.0,611.5Z" fill="#4d4d4d"/>
<path d="M1067.0,611.5C1065.4,611.4 1060.0,609.6 1057.4,610.6C1054.8,611.6 1052.8,614.7 1051.6,617.4C1050.5,620.1 1050.7,625.3 1050.5,626.9L1051.5,627.1C1052.0,625.7 1053.2,620.9 1054.4,618.6C1055.5,616.3 1056.5,614.4 1058.6,613.4C1060.7,612.4 1065.6,612.6 1067.0,612.5Z" fill="#4d4d4d"/>
<path d="M692.8,610.4C691.3,610.8 686.1,611.1 684.0,612.7C682.0,614.2 681.0,618.5 680.5,619.6L681.5,620.4C682.3,619.5 684.0,616.8 686.0,615.3C687.9,613.9 692.0,612.2 693.2,611.6Z" fill="#4d4d4d"/>
<path d="M1038.8,611.6C1040.0,612.2 1044.1,613.9 1046.0,615.3C1048.0,616.8 1049.7,619.5 1050.5,620.4L1051.5,619.6C1051.0,618.5 1050.0,614.2 1048.0,612.7C1045.9,611.1 1040.7,610.8 1039.2,610.4Z" fill="#4d4d4d"/>
<path d="M668.9,647.5C670.4,648.1 675.7,649.9 678.4,651.4C681.0,652.8 683.0,653.8 684.8,655.9C686.7,658.1 688.8,662.8 689.6,664.2L690.4,663.8C689.9,662.2 689.0,656.6 687.2,654.1C685.4,651.5 682.6,649.9 679.6,648.6C676.6,647.4 670.9,646.9 669.1,646.5Z" fill="#4d4d4d"/>
<path d="M1062.9,646.5C1061.1,646.9 1055.4,647.4 1052.4,648.6C1049.4,649.9 1046.6,651.5 1044.8,654.1C1043.0,656.6 1042.1,662.2 1041.6,663.8L1042.4,664.2C1043.2,662.8 1045.3,658.1 1047.2,655.9C1049.0,653.8 1051.0,652.8 1053.6,651.4C1056.3,649.9 1061.6,648.1 1063.1,647.5Z" fill="#4d4d4d"/>
<path d="M699.7,647.4C698.3,648.0 693.2,649.0 691.0,650.7C688.8,652.4 687.2,656.4 686.5,657.6L687.5,658.4C688.4,657.6 690.9,654.9 693.0,653.3C695.1,651.7 699.1,649.4 700.3,648.6Z" fill="#4d4d4d"/>
<path d="M1031.7,648.6C1032.9,649.4 1036.9,651.7 1039.0,653.3C1041.1,654.9 1043.6,657.6 1044.5,658.4L1045.5,657.6C1044.8,656.4 1043.2,652.4 1041.0,650.7C1038.8,649.0 1033.7,648.0 1032.3,647.4Z" fill="#4d4d4d"/>
<path d="M692.2,691.6C693.9,691.3 699.4,690.7 702.6,689.5C705.8,688.4 709.8,685.4 711.3,684.6L710.7,683.4C709.2,683.9 704.6,685.3 701.4,686.5C698.3,687.6 693.4,689.7 691.8,690.4Z" fill="#4d4d4d"/>
<path d="M1040.2,690.4C1038.6,689.7 1033.7,687.6 1030.6,686.5C1027.4,685.3 1022.8,683.9 1021.3,683.4L1020.7,684.6C1022.2,685.4 1026.2,688.4 1029.4,689.5C1032.6,690.7 1038.1,691.3 1039.8,691.6Z" fill="#4d4d4d"/>
<path d="M702.4,679.2C702.7,680.7 703.6,685.3 704.4,688.4C705.2,691.6 706.9,696.5 707.4,698.1L708.6,697.9C708.5,696.2 708.4,690.8 707.6,687.6C706.8,684.4 704.3,680.3 703.6,678.8Z" fill="#4d4d4d"/>
<path d="M1028.4,678.8C1027.7,680.3 1025.2,684.4 1024.4,687.6C1023.6,690.8 1023.5,696.2 1023.4,697.9L1024.6,698.1C1025.1,696.5 1026.8,691.6 1027.6,688.4C1028.4,685.3 1029.3,680.7 1029.6,679.2Z" fill="#4d4d4d"/>
<path d="M714.6,712.2C715.1,713.9 715.8,719.3 717.7,722.8C719.6,726.3 722.7,730.5 726.0,733.2C729.4,735.8 735.8,737.5 737.8,738.4L738.2,737.6C736.5,736.5 731.0,733.6 728.0,730.8C725.0,728.1 722.4,724.4 720.3,721.2C718.2,718.1 716.3,713.4 715.4,711.8Z" fill="#4d4d4d"/>
<path d="M1016.6,711.8C1015.7,713.4 1013.8,718.1 1011.7,721.2C1009.6,724.4 1007.0,728.1 1004.0,730.8C1001.0,733.6 995.5,736.5 993.8,737.6L994.2,738.4C996.2,737.5 1002.6,735.8 1006.0,733.2C1009.3,730.5 1012.4,726.3 1014.3,722.8C1016.2,719.3 1016.9,713.9 1017.4,712.2Z" fill="#4d4d4d"/>
<path d="M733.6,738.2C734.5,740.0 736.3,745.6 738.8,749.0C741.4,752.3 745.3,755.8 749.2,758.2C753.0,760.7 759.7,762.6 761.8,763.4L762.2,762.6C760.3,761.4 754.4,758.3 750.8,755.8C747.3,753.2 743.9,750.0 741.2,747.0C738.4,744.0 735.5,739.3 734.4,737.8Z" fill="#4d4d4d"/>
<path d="M997.6,737.8C996.5,739.3 993.6,744.0 990.8,747.0C988.1,750.0 984.7,753.2 981.2,755.8C977.6,758.3 971.7,761.4 969.8,762.6L970.2,763.4C972.3,762.6 979.0,760.7 982.8,758.2C986.7,755.8 990.6,752.3 993.2,749.0C995.7,745.6 997.5,740.0 998.4,738.2Z" fill="#4d4d4d"/>
<path d="M757.6,772.3C758.9,774.0 761.8,779.7 765.1,782.2C768.5,784.8 773.3,787.1 777.8,787.5C782.3,787.9 789.7,785.0 792.1,784.5L791.9,783.5C789.6,783.7 782.4,785.1 778.2,784.5C774.0,783.9 770.2,781.9 766.9,779.8C763.6,777.6 759.8,773.0 758.4,771.7Z" fill="#4d4d4d"/>
<path d="M973.6,771.7C972.2,773.0 968.4,777.6 965.1,779.8C961.8,781.9 958.0,783.9 953.8,784.5C949.6,785.1 942.4,783.7 940.1,783.5L939.9,784.5C942.3,785.0 949.7,787.9 954.2,787.5C958.7,787.1 963.5,784.8 966.9,782.2C970.2,779.7 973.1,774.0 974.4,772.3Z" fill="#4d4d4d"/>
<path d="M798.6,771.0 C808.3,771.5 822.6,773.5 832.3,776.0 C833.8,792.0 830.8,801.0 825.4,813.0 C820.4,823.5 810.5,823.5 805.5,813.0 C800.1,801.0 797.1,787.0 798.6,771.0 Z" fill="#fff" stroke="#1d1d1b" stroke-width="2.2" stroke-linejoin="round"/>
<path d="M899.4,776.0 C909.1,773.5 923.3,771.5 933.0,771.0 C934.5,787.0 931.5,801.0 926.2,813.0 C921.2,823.5 911.2,823.5 906.2,813.0 C900.9,801.0 897.9,792.0 899.4,776.0 Z" fill="#fff" stroke="#1d1d1b" stroke-width="2.2" stroke-linejoin="round"/>
<path d="M835.5,776.5 C843.8,775.8 856.3,776.2 864.6,777.5 C866.1,793.5 863.4,796.6 858.8,808.6 C854.4,819.1 845.7,819.1 841.3,808.6 C836.7,796.6 834.0,792.5 835.5,776.5 Z" fill="#fff" stroke="#1d1d1b" stroke-width="2.2" stroke-linejoin="round"/>
<path d="M867.2,777.5 C875.4,776.2 887.8,775.8 896.0,776.5 C897.5,792.5 894.8,796.6 890.2,808.6 C885.9,819.1 877.3,819.1 873.0,808.6 C868.4,796.6 865.7,793.5 867.2,777.5 Z" fill="#fff" stroke="#1d1d1b" stroke-width="2.2" stroke-linejoin="round"/>
<path d="M772.0,858.0C774.3,858.8 781.3,861.8 786.0,863.0C790.7,864.2 795.7,865.2 800.0,865.0C804.3,864.8 808.7,863.5 812.0,862.0C815.3,860.5 817.3,857.5 820.0,856.0C822.7,854.5 825.2,853.2 828.0,853.0C830.8,852.8 834.0,854.8 837.0,855.0C840.0,855.2 842.8,854.5 846.0,854.0C849.2,853.5 852.7,852.3 856.0,852.0C859.3,851.7 862.7,852.0 866.0,852.0C869.3,852.0 872.7,851.7 876.0,852.0C879.3,852.3 882.8,853.5 886.0,854.0C889.2,854.5 892.0,855.2 895.0,855.0C898.0,854.8 901.2,852.8 904.0,853.0C906.8,853.2 909.3,854.5 912.0,856.0C914.7,857.5 916.7,860.5 920.0,862.0C923.3,863.5 927.7,864.8 932.0,865.0C936.3,865.2 941.3,864.2 946.0,863.0C950.7,861.8 957.7,858.8 960.0,858.0" stroke="#b23a34" stroke-width="3.4" fill="none" stroke-linecap="round"/>
<path d="M723.5,820.3C725.3,823.3 730.5,833.0 734.4,838.3C738.3,843.7 742.2,847.8 746.8,852.4C751.4,857.0 756.5,861.4 762.0,866.0C767.6,870.7 774.6,875.8 780.1,880.1C785.5,884.3 790.6,887.9 794.8,891.4C799.0,894.9 802.6,898.0 805.3,901.2C807.9,904.3 809.6,908.7 810.5,910.2L811.5,909.8C811.1,908.0 810.8,902.7 808.7,898.8C806.7,895.0 803.2,890.8 799.2,886.6C795.3,882.5 790.3,878.4 784.9,873.9C779.6,869.5 772.6,864.3 767.0,860.0C761.3,855.6 756.1,851.6 751.2,847.6C746.3,843.5 742.1,840.3 737.6,835.7C733.2,831.0 726.7,822.3 724.5,819.7Z" fill="#f2b199"/>
<path d="M1006.5,819.7C1004.3,822.3 997.8,831.0 993.4,835.7C988.9,840.3 984.7,843.5 979.8,847.6C974.9,851.6 969.7,855.6 964.0,860.0C958.4,864.3 951.4,869.5 946.1,873.9C940.7,878.4 935.7,882.5 931.8,886.6C927.8,890.8 924.3,895.0 922.3,898.8C920.2,902.7 919.9,908.0 919.5,909.8L920.5,910.2C921.4,908.7 923.1,904.3 925.7,901.2C928.4,898.0 932.0,894.9 936.2,891.4C940.4,887.9 945.5,884.3 950.9,880.1C956.4,875.8 963.4,870.7 969.0,866.0C974.5,861.4 979.6,857.0 984.2,852.4C988.8,847.8 992.7,843.7 996.6,838.3C1000.5,833.0 1005.7,823.3 1007.5,820.3Z" fill="#f2b199"/>
<path d="M867.5,844 C869.5,858 870,868 868,880 C867,890 869,898 866.5,910 C863,900 862,890 862.5,880 C861.5,866 864,856 867.5,844Z" fill="#f6b9a6"/>
<path d="M867,850 C868,862 868,870 866.8,880 C866,890 867,897 866,905 C864.8,897 864.5,890 865,880 C864.6,868 865.5,860 867,850Z" fill="#fce3d8"/>
<path d="M861,160 C859,170 862,178 865,186 C868,194 868,202 867,210" stroke="#961920" stroke-width="1.8" fill="none" stroke-linecap="round"/>
<path d="M874,176 C875,186 877,196 875,206" stroke="#961920" stroke-width="1.4" fill="none" stroke-linecap="round"/>
<path d="M865.5,149 C868.5,160 864.5,170 867.5,180 C870.5,190 873.5,198 872,209 C870.5,202 867,196 865.3,188 C862.3,178 864.8,164 865.5,149Z" fill="#fbe3d8" stroke="#fbe3d8" stroke-width="1.2" stroke-linejoin="round"/><path d="M866.3,160 C867,170 866,180 869,190 C870.5,196 871,201 871.5,205" stroke="#ef9c8c" stroke-width="0.8" fill="none"/>
<path d="M800.0,180.0C803.3,178.7 813.8,173.9 820.0,172.0C826.2,170.1 832.0,168.8 837.0,168.5C842.0,168.2 846.2,169.0 850.0,170.0C853.8,171.0 858.3,173.8 860.0,174.5" stroke="#961920" stroke-width="3.6" fill="none" stroke-linecap="round"/>
<path d="M874.0,176.0C875.3,175.2 878.2,172.2 882.0,171.0C885.8,169.8 892.0,168.3 897.0,168.5C902.0,168.7 906.3,169.9 912.0,172.0C917.7,174.1 927.8,179.5 931.0,181.0" stroke="#961920" stroke-width="3.6" fill="none" stroke-linecap="round"/>
<path d="M619.0,470.0C618.3,475.0 615.5,488.3 614.6,500.0C613.7,511.7 613.4,526.7 613.4,540.0C613.4,553.3 613.6,567.5 614.5,580.0C615.4,592.5 616.9,604.2 619.0,615.0C621.1,625.8 624.2,636.2 627.0,645.0C629.8,653.8 634.5,664.2 636.0,668.0" stroke="#be262c" stroke-width="2.8" fill="none" stroke-linecap="round"/>
<path d="M1106.0,470.0C1106.4,475.0 1107.9,488.3 1108.5,500.0C1109.1,511.7 1109.6,526.7 1109.5,540.0C1109.4,553.3 1108.9,567.5 1108.0,580.0C1107.1,592.5 1105.8,604.2 1104.0,615.0C1102.2,625.8 1099.5,636.2 1097.0,645.0C1094.5,653.8 1090.3,664.2 1089.0,668.0" stroke="#be262c" stroke-width="2.8" fill="none" stroke-linecap="round"/>
<circle cx="804.5" cy="880.5" r="4" fill="#1d1d1b"/><circle cx="924.5" cy="883.5" r="4" fill="#1d1d1b"/>
<path d="M804,880 C814,888 818,898 814,912 L765,1065" fill="none" stroke="#1d1d1b" stroke-width="8.6" stroke-linecap="butt"/>
<path d="M804,880 C814,888 818,898 814,912 L765,1065" fill="none" stroke="#bdc3cc" stroke-width="4.5" stroke-linecap="butt"/>
<path d="M925,883 C915,890 911,900 914,914 L936,1073" fill="none" stroke="#1d1d1b" stroke-width="8.6" stroke-linecap="butt"/>
<path d="M925,883 C915,890 911,900 914,914 L936,1073" fill="none" stroke="#bdc3cc" stroke-width="4.5" stroke-linecap="butt"/>
<clipPath id="lipclip"><path d="M865.5,110.8C868.7,110.8 870.8,110.7 875.0,109.8C879.2,108.9 885.4,106.9 890.6,105.6C895.8,104.3 901.7,102.7 906.0,102.0C910.3,101.3 913.0,101.5 916.5,101.5C920.0,101.5 923.5,101.5 927.0,102.0C930.5,102.5 933.9,103.5 937.3,104.6C940.7,105.7 944.1,107.1 947.6,108.8C951.1,110.5 954.5,112.8 958.0,115.0C961.5,117.2 964.9,119.7 968.4,122.2C971.9,124.7 973.0,123.7 979.2,130.0C985.4,136.3 999.4,152.6 1005.6,160.2C1011.9,167.7 1013.2,170.0 1016.6,175.2C1020.1,180.3 1023.3,185.7 1026.4,191.1C1029.4,196.4 1032.3,202.0 1035.0,207.4C1037.7,212.8 1040.2,218.3 1042.6,223.7C1045.1,229.1 1047.3,234.4 1049.6,239.6C1051.8,244.8 1053.9,249.9 1056.0,254.9C1058.0,259.9 1060.0,264.8 1062.0,269.5C1064.0,274.3 1065.9,278.9 1067.8,283.4C1069.6,288.0 1071.5,292.4 1073.2,296.8C1075.0,301.1 1076.8,305.4 1078.4,309.6C1080.1,313.9 1081.8,318.0 1083.3,322.2C1084.9,326.3 1086.4,330.4 1087.8,334.5C1089.3,338.5 1090.7,342.6 1092.0,346.5C1093.4,350.5 1094.6,354.5 1095.9,358.4C1097.1,362.3 1098.3,366.2 1099.5,370.0C1100.7,373.8 1101.8,377.6 1103.0,381.3C1104.1,385.1 1105.2,388.8 1106.3,392.5C1107.3,396.1 1108.4,399.8 1109.4,403.4C1110.4,407.0 1111.4,410.6 1112.3,414.2C1113.2,417.9 1114.1,421.4 1114.9,425.0C1115.6,428.6 1116.4,432.2 1117.0,435.8C1117.6,439.4 1118.2,443.0 1118.6,446.6C1119.1,450.2 1119.5,453.8 1119.8,457.4C1120.1,461.0 1120.3,464.5 1120.5,468.1C1120.7,471.6 1120.8,475.2 1121.0,478.7C1121.1,482.2 1121.2,485.7 1121.2,489.1C1121.3,492.6 1121.4,496.0 1121.5,499.5C1121.6,502.9 1121.7,506.3 1121.8,509.7C1121.9,513.1 1122.0,516.4 1122.1,519.8C1122.1,523.2 1122.2,526.5 1122.3,529.9C1122.3,533.3 1122.3,536.6 1122.3,540.0C1122.3,543.4 1122.2,546.7 1122.1,550.1C1121.9,553.4 1121.7,556.8 1121.5,560.1C1121.3,563.5 1121.0,566.9 1120.7,570.2C1120.4,573.6 1120.0,576.9 1119.7,580.3C1119.3,583.6 1119.0,587.0 1118.6,590.3C1118.3,593.7 1117.9,597.1 1117.6,600.5C1117.2,603.9 1116.9,607.3 1116.5,610.8C1116.2,614.3 1115.9,617.7 1115.5,621.2C1115.1,624.7 1114.7,628.2 1114.2,631.8C1113.7,635.3 1113.2,638.8 1112.6,642.3C1111.9,645.9 1111.2,649.4 1110.4,652.9C1109.5,656.4 1108.6,659.9 1107.6,663.3C1106.5,666.8 1105.3,670.2 1104.1,673.6C1102.9,677.0 1101.5,680.4 1100.2,683.8C1098.8,687.2 1097.4,690.6 1096.0,694.0C1094.5,697.4 1093.1,700.8 1091.6,704.3C1090.2,707.8 1088.8,711.3 1087.4,715.0C1086.1,718.6 1084.7,722.3 1083.4,726.1C1082.0,729.9 1080.7,733.8 1079.4,737.7C1078.1,741.7 1076.8,745.8 1075.4,749.9C1074.1,754.1 1072.7,758.3 1071.2,762.6C1069.8,766.8 1068.3,771.2 1066.7,775.5C1065.1,779.9 1063.4,784.3 1061.6,788.8C1059.8,793.2 1058.0,797.7 1056.0,802.2C1054.1,806.8 1052.1,811.4 1050.0,816.1C1047.9,820.8 1045.7,825.5 1043.5,830.4C1041.3,835.3 1039.0,840.3 1036.6,845.5C1034.2,850.6 1031.8,855.9 1029.2,861.3C1026.6,866.7 1024.0,872.2 1021.2,877.7C1018.4,883.3 1015.5,888.9 1012.3,894.5C1009.2,900.0 1005.9,905.6 1002.3,910.9C998.8,916.2 995.0,921.5 991.0,926.3C987.0,931.2 982.8,935.9 978.3,940.1C973.9,944.3 969.2,948.1 964.3,951.5C959.4,954.9 954.3,957.8 949.1,960.3C943.9,962.9 938.5,964.9 933.1,966.6C927.6,968.3 922.0,969.5 916.5,970.5C910.9,971.6 905.2,972.2 899.6,972.8C893.9,973.3 888.2,973.6 882.5,973.8C876.9,974.0 871.2,974.1 865.5,974.1C859.8,974.1 854.1,974.0 848.5,973.8C842.8,973.6 837.1,973.3 831.4,972.8C825.8,972.2 820.1,971.6 814.5,970.6C809.0,969.6 803.4,968.4 797.9,966.7C792.5,965.0 787.1,963.0 781.9,960.5C776.7,958.0 771.5,955.0 766.7,951.7C761.8,948.3 757.1,944.4 752.6,940.1C748.2,935.9 744.0,931.2 740.0,926.3C736.0,921.3 732.3,916.0 728.8,910.6C725.2,905.3 722.0,899.6 718.8,894.1C715.7,888.5 712.8,882.8 710.0,877.3C707.2,871.9 704.5,866.4 701.9,861.2C699.2,855.9 696.7,850.8 694.2,845.9C691.7,841.0 689.2,836.3 686.7,831.7C684.3,827.1 681.8,822.8 679.4,818.5C677.0,814.1 674.7,810.0 672.4,805.8C670.1,801.7 667.8,797.6 665.6,793.5C663.5,789.4 661.4,785.4 659.4,781.3C657.5,777.2 655.6,773.1 653.9,768.9C652.2,764.8 650.6,760.6 649.0,756.5C647.5,752.3 646.1,748.1 644.8,744.0C643.4,739.9 642.2,735.8 641.0,731.8C639.7,727.8 638.5,723.8 637.4,719.9C636.2,715.9 635.0,712.1 633.8,708.3C632.6,704.6 631.4,700.9 630.2,697.2C629.0,693.6 627.8,690.0 626.6,686.4C625.3,682.9 624.1,679.3 622.9,675.8C621.8,672.3 620.6,668.8 619.5,665.3C618.4,661.8 617.4,658.3 616.4,654.8C615.4,651.3 614.5,647.8 613.7,644.3C612.9,640.8 612.1,637.3 611.4,633.7C610.8,630.2 610.1,626.7 609.6,623.2C609.0,619.6 608.5,616.1 608.1,612.6C607.6,609.1 607.2,605.6 606.8,602.1C606.3,598.6 606.0,595.2 605.6,591.7C605.2,588.2 604.9,584.8 604.6,581.3C604.3,577.9 604.0,574.4 603.7,571.0C603.5,567.5 603.2,564.1 603.0,560.7C602.8,557.2 602.7,553.8 602.6,550.3C602.5,546.9 602.4,543.4 602.4,540.0C602.4,536.6 602.4,533.1 602.5,529.7C602.5,526.2 602.7,522.8 602.8,519.3C602.9,515.9 603.1,512.4 603.3,509.0C603.5,505.5 603.7,502.1 604.0,498.6C604.2,495.1 604.5,491.6 604.8,488.1C605.1,484.7 605.4,481.2 605.8,477.7C606.2,474.1 606.6,470.6 607.1,467.1C607.5,463.6 608.0,460.1 608.6,456.5C609.1,453.0 609.8,449.4 610.4,445.9C611.1,442.4 611.8,438.8 612.6,435.2C613.4,431.7 614.2,428.1 615.1,424.6C615.9,421.0 616.9,417.4 617.8,413.8C618.7,410.2 619.7,406.5 620.6,402.9C621.6,399.2 622.5,395.5 623.5,391.7C624.5,388.0 625.5,384.2 626.5,380.3C627.5,376.5 628.5,372.5 629.6,368.6C630.6,364.6 631.7,360.6 632.8,356.5C633.9,352.5 635.1,348.4 636.3,344.2C637.5,340.1 638.8,335.9 640.1,331.7C641.5,327.4 642.9,323.2 644.4,318.9C645.9,314.6 647.5,310.3 649.1,305.9C650.8,301.6 652.5,297.2 654.3,292.8C656.1,288.3 658.0,283.8 660.0,279.3C661.9,274.7 663.9,270.1 666.0,265.4C668.1,260.7 670.2,255.9 672.4,251.0C674.6,246.2 676.9,241.2 679.3,236.2C681.7,231.2 684.2,226.0 686.8,220.9C689.4,215.7 692.1,210.5 694.9,205.3C697.8,200.1 700.8,194.8 704.0,189.7C707.2,184.5 710.5,179.4 714.1,174.5C717.6,169.5 719.0,167.4 725.3,160.0C731.7,152.6 746.0,136.3 752.2,130.0C758.4,123.7 759.1,124.7 762.6,122.2C766.1,119.7 769.5,117.2 773.0,115.0C776.5,112.8 779.9,110.5 783.4,108.8C786.9,107.1 790.3,105.7 793.7,104.6C797.1,103.5 800.5,102.5 804.0,102.0C807.5,101.5 811.0,101.5 814.5,101.5C818.0,101.5 820.6,101.3 824.9,102.0C829.2,102.7 835.2,104.3 840.4,105.6C845.6,106.9 851.8,108.9 856.0,109.8C860.2,110.7 862.3,110.8 865.5,110.8Z"/></clipPath>
<path d="M565,315.5 L828,315.5" fill="none" stroke="#fff" stroke-width="4.2" opacity="0.8" clip-path="url(#lipclip)"/>
<path d="M565,315.5 L828,315.5" fill="none" stroke="#111" stroke-width="2"/>
<circle cx="828.0" cy="315.5" r="5.0" fill="#0a0a0a"/>
<path d="M565,369 L772,369" fill="none" stroke="#fff" stroke-width="4.2" opacity="0.8" clip-path="url(#lipclip)"/>
<path d="M565,369 L772,369" fill="none" stroke="#111" stroke-width="2"/>
<circle cx="772.0" cy="369.0" r="5.0" fill="#0a0a0a"/>
<path d="M565,430.5 L816,430.5" fill="none" stroke="#fff" stroke-width="4.2" opacity="0.8" clip-path="url(#lipclip)"/>
<path d="M565,430.5 L816,430.5" fill="none" stroke="#111" stroke-width="2"/>
<circle cx="816.0" cy="431.0" r="5.0" fill="#0a0a0a"/>
<path d="M605,510 L824,510" stroke="#fff" stroke-width="9" opacity="0.55" filter="url(#soft2)" fill="none"/>
<path d="M555,510 L824,510" fill="none" stroke="#fff" stroke-width="4.2" opacity="0.8" clip-path="url(#lipclip)"/>
<path d="M555,510 L824,510" fill="none" stroke="#111" stroke-width="2"/>
<circle cx="824.0" cy="510.5" r="5.0" fill="#0a0a0a"/>
<path d="M565,562 L707,562" fill="none" stroke="#fff" stroke-width="4.2" opacity="0.8" clip-path="url(#lipclip)"/>
<path d="M565,562 L707,562" fill="none" stroke="#111" stroke-width="2"/>
<circle cx="707.0" cy="562.0" r="5.0" fill="#0a0a0a"/>
<path d="M565,731 L803,731" fill="none" stroke="#fff" stroke-width="4.2" opacity="0.8" clip-path="url(#lipclip)"/>
<path d="M565,731 L803,731" fill="none" stroke="#111" stroke-width="2"/>
<circle cx="803.0" cy="731.5" r="5.0" fill="#0a0a0a"/>
<path d="M580,834.5 L794,834.5" fill="none" stroke="#fff" stroke-width="4.2" opacity="0.8" clip-path="url(#lipclip)"/>
<path d="M580,834.5 L794,834.5" fill="none" stroke="#111" stroke-width="2"/>
<circle cx="794.0" cy="834.5" r="5.0" fill="#0a0a0a"/>
<path d="M1162,237 L1080,237 L922,379" fill="none" stroke="#fff" stroke-width="4.2" opacity="0.8" clip-path="url(#lipclip)"/>
<path d="M1162,237 L1080,237 L922,379" fill="none" stroke="#111" stroke-width="2"/>
<circle cx="922.0" cy="379.0" r="5.0" fill="#0a0a0a"/>
<path d="M1162,467 L1078,467 L942,478 M1078,467 L928,504" fill="none" stroke="#fff" stroke-width="4.2" opacity="0.8" clip-path="url(#lipclip)"/>
<path d="M1162,467 L1078,467 L942,478 M1078,467 L928,504" fill="none" stroke="#111" stroke-width="2"/>
<circle cx="942.0" cy="478.0" r="5.0" fill="#0a0a0a"/>
<circle cx="928.0" cy="504.0" r="5.0" fill="#0a0a0a"/>
<path d="M1162,546 L979,546" fill="none" stroke="#fff" stroke-width="4.2" opacity="0.8" clip-path="url(#lipclip)"/>
<path d="M1162,546 L979,546" fill="none" stroke="#111" stroke-width="2"/>
<circle cx="979.0" cy="547.0" r="5.0" fill="#0a0a0a"/>
<path d="M1162,608 L978,608 L876,517" fill="none" stroke="#fff" stroke-width="4.2" opacity="0.8" clip-path="url(#lipclip)"/>
<path d="M1162,608 L978,608 L876,517" fill="none" stroke="#111" stroke-width="2"/>
<circle cx="876.0" cy="517.0" r="5.0" fill="#0a0a0a"/>
<text y="320.5" font-size="50" fill="#000" stroke="#000" stroke-width="2.2" stroke-linejoin="round"><tspan x="294.6" textLength="132.7" lengthAdjust="spacingAndGlyphs">Palatine</tspan> <tspan x="441.9" textLength="108.4" lengthAdjust="spacingAndGlyphs">glands</tspan></text>
<text y="374.0" font-size="50" fill="#000" stroke="#000" stroke-width="2.2" stroke-linejoin="round"><tspan x="81.0" textLength="133.7" lengthAdjust="spacingAndGlyphs">Palatine</tspan> <tspan x="228.3" textLength="127.8" lengthAdjust="spacingAndGlyphs">arteries</tspan> <tspan x="369.0" textLength="58.3" lengthAdjust="spacingAndGlyphs">and</tspan> <tspan x="441.9" textLength="108.4" lengthAdjust="spacingAndGlyphs">nerves</tspan></text>
<text y="440.0" font-size="50" fill="#000" stroke="#000" stroke-width="2.2" stroke-linejoin="round"><tspan x="205.6" textLength="59.9" lengthAdjust="spacingAndGlyphs">Veli</tspan> <tspan x="281.7" textLength="126.2" lengthAdjust="spacingAndGlyphs">palatini</tspan> <tspan x="422.5" textLength="132.6" lengthAdjust="spacingAndGlyphs">muscles</tspan></text>
<text y="516.0" font-size="50" fill="#000" stroke="#000" stroke-width="2.2" stroke-linejoin="round"><tspan x="123.1" textLength="147.3" lengthAdjust="spacingAndGlyphs">Posterior</tspan> <tspan x="284.9" textLength="181.2" lengthAdjust="spacingAndGlyphs">pharangeal</tspan> <tspan x="480.7" textLength="66.3" lengthAdjust="spacingAndGlyphs">wall</tspan></text>
<text y="582.5" font-size="50" fill="#000" stroke="#000" stroke-width="2.2" stroke-linejoin="round"><tspan x="369.0" textLength="69.6" lengthAdjust="spacingAndGlyphs">Soft</tspan> <tspan x="454.8" textLength="100.3" lengthAdjust="spacingAndGlyphs">palate</tspan></text>
<text y="747.0" font-size="50" fill="#000" stroke="#000" stroke-width="2.2" stroke-linejoin="round"><tspan x="441.2" textLength="113.6" lengthAdjust="spacingAndGlyphs">Tongue</tspan></text>
<text y="848.6" font-size="50" fill="#000" stroke="#000" stroke-width="2.2" stroke-linejoin="round"><tspan x="432.7" textLength="122.8" lengthAdjust="spacingAndGlyphs">Gingiva</tspan></text>
<text y="256.0" font-size="50" fill="#000" stroke="#000" stroke-width="2.2" stroke-linejoin="round"><tspan x="1170.2" textLength="76.6" lengthAdjust="spacingAndGlyphs">Hard</tspan> <tspan x="1263.8" textLength="99.8" lengthAdjust="spacingAndGlyphs">palate</tspan></text>
<text y="483.0" font-size="50" fill="#000" stroke="#000" stroke-width="2.2" stroke-linejoin="round"><tspan x="1170.2" textLength="138.2" lengthAdjust="spacingAndGlyphs">Anterior</tspan> <tspan x="1321.8" textLength="27.6" lengthAdjust="spacingAndGlyphs">&amp;</tspan> <tspan x="1362.4" textLength="144.1" lengthAdjust="spacingAndGlyphs">Posterior</tspan> <tspan x="1524.2" textLength="104.6" lengthAdjust="spacingAndGlyphs">pillars</tspan></text>
<text y="560.0" font-size="50" fill="#000" stroke="#000" stroke-width="2.2" stroke-linejoin="round"><tspan x="1170.2" textLength="131.8" lengthAdjust="spacingAndGlyphs">Palatine</tspan> <tspan x="1318.2" textLength="91.6" lengthAdjust="spacingAndGlyphs">tonsil</tspan></text>
<text y="629.0" font-size="50" fill="#000" stroke="#000" stroke-width="2.2" stroke-linejoin="round"><tspan x="1170.2" textLength="92.4" lengthAdjust="spacingAndGlyphs">Uvula</tspan></text>
<text y="1180.5" font-size="71" fill="#a016cc" stroke="#a016cc" stroke-width="3.124" stroke-linejoin="round"><tspan x="345.6" textLength="182.0" lengthAdjust="spacingAndGlyphs">Various</tspan> <tspan x="546.3" textLength="247.4" lengthAdjust="spacingAndGlyphs">structures</tspan> <tspan x="814.0" textLength="105.0" lengthAdjust="spacingAndGlyphs">seen</tspan> <tspan x="944.0" textLength="40.5" lengthAdjust="spacingAndGlyphs">in</tspan> <tspan x="1007.8" textLength="74.7" lengthAdjust="spacingAndGlyphs">the</tspan> <tspan x="1104.3" textLength="284.7" lengthAdjust="spacingAndGlyphs">oropharynx.</tspan></text>
<g opacity="0.5"><clipPath id="wmc"><rect x="1480" y="780" width="140" height="105"/></clipPath><circle cx="1549" cy="838" r="53" fill="#fbd791" clip-path="url(#wmc)"/><polygon points="1505.4,804.6 1508.9,810.2 1515.4,809.5 1511.2,814.6 1513.8,820.6 1507.7,818.2 1502.8,822.5 1503.2,816.0 1497.6,812.7 1503.9,811.0" fill="#e79aa4"/><polygon points="1598.0,823.7 1599.2,830.1 1605.4,832.0 1599.7,835.1 1599.9,841.7 1595.1,837.2 1588.9,839.4 1591.7,833.4 1587.8,828.2 1594.3,829.1" fill="#e79aa4"/><path d="M1530,846 C1536,838 1562,838 1568,846 L1570,858 L1528,858Z" fill="#e8705a"/><circle cx="1549" cy="822" r="17" fill="#f8d3bd"/><path d="M1531,823 C1528,804 1541,798 1550,800 C1562,797 1571,806 1567,824 C1564,815 1558,811 1549,812 C1541,811 1534,815 1531,823Z" fill="#8c6f70"/><circle cx="1543" cy="826" r="1.6" fill="#5a4a4a"/><circle cx="1556" cy="826" r="1.6" fill="#5a4a4a"/><path d="M1546,832 q3.5,4 7,0z" fill="#b5525a"/><rect x="1525" y="845" width="52" height="33" rx="3" fill="#e4e6e6"/><rect x="1504" y="855" width="13" height="23" rx="3" fill="#9ccf9a"/><rect x="1506" y="851" width="9" height="6" rx="2" fill="#7fb8c9"/><rect x="1497" y="877" width="104" height="8" fill="#eaa0a3"/></g>
<text y="924.0" font-size="29" fill="#b7b7b7" stroke="#b7b7b7" stroke-width="0.6" stroke-linejoin="round"><tspan x="1463.5" textLength="20.9" lengthAdjust="spacingAndGlyphs">Dr</tspan> <tspan x="1497.0" textLength="51.0" lengthAdjust="spacingAndGlyphs">Rahul</tspan> <tspan x="1568.8" textLength="59.0" lengthAdjust="spacingAndGlyphs">Bagla</tspan></text>
<text y="961.5" font-size="29" fill="#b7b7b7" stroke="#b7b7b7" stroke-width="0.6" stroke-linejoin="round"><tspan x="1474.4" textLength="39.0" lengthAdjust="spacingAndGlyphs">ENT</tspan> <tspan x="1527.0" textLength="91.7" lengthAdjust="spacingAndGlyphs">Textbook</tspan></text>
</svg>
</body></html>
